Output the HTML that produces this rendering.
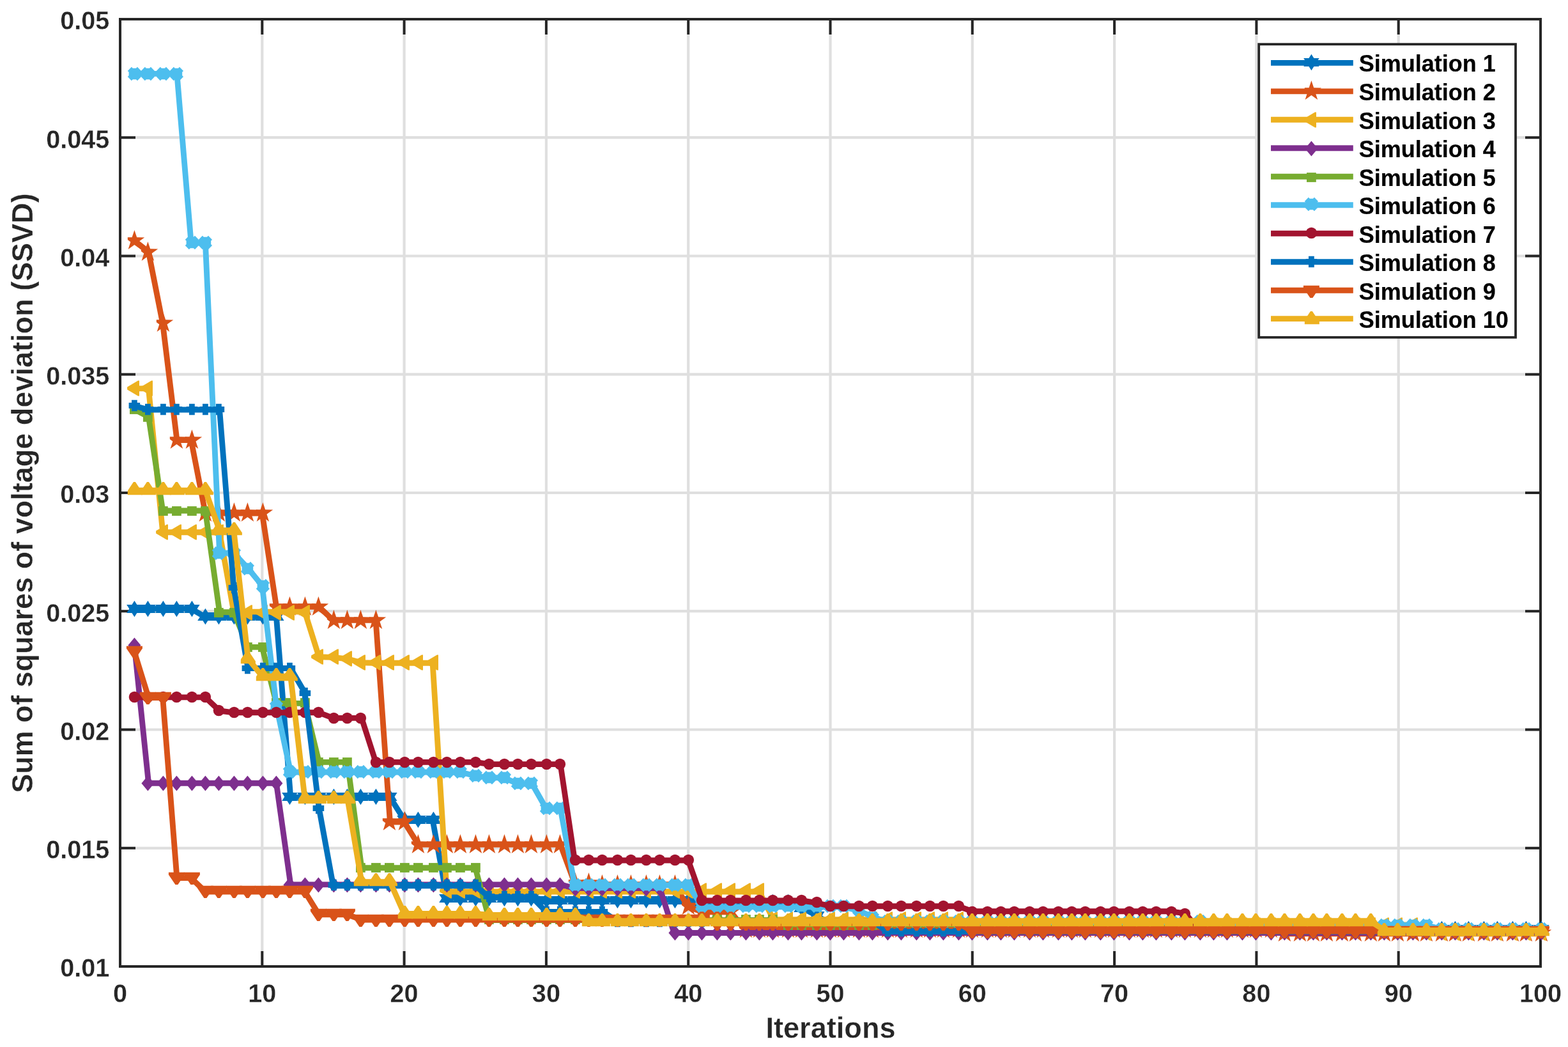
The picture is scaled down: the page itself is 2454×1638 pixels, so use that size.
<!DOCTYPE html>
<html lang="en"><head><meta charset="utf-8">
<title>Sum of squares of voltage deviation (SSVD) vs Iterations</title>
<style>
html,body{margin:0;padding:0;background:#fff;}
body{width:2454px;height:1638px;overflow:hidden;}
svg{display:block;}
text{font-family:"Liberation Sans",sans-serif;font-weight:bold;}
.tick,.lab{stroke:#fff;stroke-width:0.3px;paint-order:fill stroke;stroke-linejoin:miter;}
.tick{font-size:40.6px;fill:#262626;}
.lab{font-size:45.6px;fill:#262626;}
.leg{font-size:37.4px;fill:#000;stroke:#000;stroke-width:0.2px;}
</style></head><body>
<svg width="2454" height="1638" viewBox="0 0 2454 1638" role="img" aria-label="Convergence of SSVD over iterations for ten simulations">
<defs>
<g id="m-hex"><polygon points="0,-12.8 12.2,6.4 -12.2,6.4"/><polygon points="0,12.8 12.2,-6.4 -12.2,-6.4"/></g>
<clipPath id="cl"><rect x="-10.6" y="-30" width="60" height="60"/></clipPath>
<g id="m-star" clip-path="url(#cl)"><polygon points="0,-16.6 3.8,-5.2 15.8,-5.1 6.1,2 9.8,13.4 0,6.4 -9.8,13.4 -6.1,2 -15.8,-5.1 -3.8,-5.2"/></g>
<polygon id="m-left" points="7.6,-12 7.6,12 5.6,12 -11.3,2 -11.3,-2 5.6,-12"/>
<polygon id="m-diamond" points="0,-12 10,0 0,12 -10,0"/>
<rect id="m-square" x="-7.4" y="-7.4" width="14.8" height="14.8"/>
<path id="m-hex6" d="M-7.6,-7.6L7.6,7.6M-7.6,7.6L7.6,-7.6M0,-8.8V8.8M-8.8,0H8.8" fill="none" stroke-width="8.6"/>
<circle id="m-circle" r="8.7"/>
<path id="m-plus" d="M0,-8.8V8.8M-8.8,0H8.8" fill="none" stroke-width="8.8"/>
<polygon id="m-down" points="-12.5,-7.8 12.5,-7.8 12.5,-4 2,11.6 -2,11.6 -12.5,-4"/>
<g id="m-up" clip-path="url(#cl)"><polygon points="-12.5,7.8 12.5,7.8 12.5,4 1.5,-12.4 -1.5,-12.4 -12.5,4"/></g>
<clipPath id="clip"><rect x="158" y="0" width="2283" height="1542"/></clipPath>
</defs>
<rect width="2454" height="1638" fill="#fff"/>
<g stroke="#dfdfdf" stroke-width="4.2" fill="none">
<line x1="410.3" y1="30" x2="410.3" y2="1512"/>
<line x1="632.6" y1="30" x2="632.6" y2="1512"/>
<line x1="854.9" y1="30" x2="854.9" y2="1512"/>
<line x1="1077.2" y1="30" x2="1077.2" y2="1512"/>
<line x1="1299.5" y1="30" x2="1299.5" y2="1512"/>
<line x1="1521.8" y1="30" x2="1521.8" y2="1512"/>
<line x1="1744.1" y1="30" x2="1744.1" y2="1512"/>
<line x1="1966.4" y1="30" x2="1966.4" y2="1512"/>
<line x1="2188.7" y1="30" x2="2188.7" y2="1512"/>
<line x1="188" y1="1326.8" x2="2411" y2="1326.8"/>
<line x1="188" y1="1141.5" x2="2411" y2="1141.5"/>
<line x1="188" y1="956.2" x2="2411" y2="956.2"/>
<line x1="188" y1="771" x2="2411" y2="771"/>
<line x1="188" y1="585.7" x2="2411" y2="585.7"/>
<line x1="188" y1="400.5" x2="2411" y2="400.5"/>
<line x1="188" y1="215.2" x2="2411" y2="215.2"/>
</g>
<g stroke="#262626" stroke-width="4" fill="none">
<rect x="188" y="30" width="2223" height="1482"/>
<line x1="410.3" y1="1512" x2="410.3" y2="1488"/>
<line x1="410.3" y1="30" x2="410.3" y2="54"/>
<line x1="632.6" y1="1512" x2="632.6" y2="1488"/>
<line x1="632.6" y1="30" x2="632.6" y2="54"/>
<line x1="854.9" y1="1512" x2="854.9" y2="1488"/>
<line x1="854.9" y1="30" x2="854.9" y2="54"/>
<line x1="1077.2" y1="1512" x2="1077.2" y2="1488"/>
<line x1="1077.2" y1="30" x2="1077.2" y2="54"/>
<line x1="1299.5" y1="1512" x2="1299.5" y2="1488"/>
<line x1="1299.5" y1="30" x2="1299.5" y2="54"/>
<line x1="1521.8" y1="1512" x2="1521.8" y2="1488"/>
<line x1="1521.8" y1="30" x2="1521.8" y2="54"/>
<line x1="1744.1" y1="1512" x2="1744.1" y2="1488"/>
<line x1="1744.1" y1="30" x2="1744.1" y2="54"/>
<line x1="1966.4" y1="1512" x2="1966.4" y2="1488"/>
<line x1="1966.4" y1="30" x2="1966.4" y2="54"/>
<line x1="2188.7" y1="1512" x2="2188.7" y2="1488"/>
<line x1="2188.7" y1="30" x2="2188.7" y2="54"/>
<line x1="188" y1="1326.8" x2="212" y2="1326.8"/>
<line x1="2411" y1="1326.8" x2="2387" y2="1326.8"/>
<line x1="188" y1="1141.5" x2="212" y2="1141.5"/>
<line x1="2411" y1="1141.5" x2="2387" y2="1141.5"/>
<line x1="188" y1="956.2" x2="212" y2="956.2"/>
<line x1="2411" y1="956.2" x2="2387" y2="956.2"/>
<line x1="188" y1="771" x2="212" y2="771"/>
<line x1="2411" y1="771" x2="2387" y2="771"/>
<line x1="188" y1="585.7" x2="212" y2="585.7"/>
<line x1="2411" y1="585.7" x2="2387" y2="585.7"/>
<line x1="188" y1="400.5" x2="212" y2="400.5"/>
<line x1="2411" y1="400.5" x2="2387" y2="400.5"/>
<line x1="188" y1="215.2" x2="212" y2="215.2"/>
<line x1="2411" y1="215.2" x2="2387" y2="215.2"/>
</g>
<g class="tick">
<text transform="translate(188 1568) scale(0.976 1)" text-anchor="middle">0</text>
<text transform="translate(410.3 1568) scale(0.976 1)" text-anchor="middle">10</text>
<text transform="translate(632.6 1568) scale(0.976 1)" text-anchor="middle">20</text>
<text transform="translate(854.9 1568) scale(0.976 1)" text-anchor="middle">30</text>
<text transform="translate(1077.2 1568) scale(0.976 1)" text-anchor="middle">40</text>
<text transform="translate(1299.5 1568) scale(0.976 1)" text-anchor="middle">50</text>
<text transform="translate(1521.8 1568) scale(0.976 1)" text-anchor="middle">60</text>
<text transform="translate(1744.1 1568) scale(0.976 1)" text-anchor="middle">70</text>
<text transform="translate(1966.4 1568) scale(0.976 1)" text-anchor="middle">80</text>
<text transform="translate(2188.7 1568) scale(0.976 1)" text-anchor="middle">90</text>
<text transform="translate(2411 1568) scale(0.976 1)" text-anchor="middle">100</text>
<text transform="translate(171.3 1528.4) scale(0.976 1)" text-anchor="end">0.01</text>
<text transform="translate(171.3 1343.2) scale(0.976 1)" text-anchor="end">0.015</text>
<text transform="translate(171.3 1157.9) scale(0.976 1)" text-anchor="end">0.02</text>
<text transform="translate(171.3 972.6) scale(0.976 1)" text-anchor="end">0.025</text>
<text transform="translate(171.3 787.4) scale(0.976 1)" text-anchor="end">0.03</text>
<text transform="translate(171.3 602.1) scale(0.976 1)" text-anchor="end">0.035</text>
<text transform="translate(171.3 416.9) scale(0.976 1)" text-anchor="end">0.04</text>
<text transform="translate(171.3 231.7) scale(0.976 1)" text-anchor="end">0.045</text>
<text transform="translate(171.3 46.4) scale(0.976 1)" text-anchor="end">0.05</text>
</g>
<text class="lab" transform="translate(1300 1624) scale(0.99 1)" text-anchor="middle">Iterations</text>
<text class="lab" transform="translate(51.3 771.5) rotate(-90) scale(0.988 1)" text-anchor="middle">Sum of squares of voltage deviation (SSVD)</text>
<g clip-path="url(#clip)">
<g fill="#0072bd" stroke="#0072bd" stroke-width="0">
<polyline fill="none" stroke-width="8.9" stroke-linejoin="round" points="210.2,952.3 232.5,952.3 254.7,952.3 276.9,952.3 299.1,952.3 321.4,965.4 343.6,965.4 365.8,965.4 388.1,965.4 410.3,965.4 432.5,965.4 454.8,1247.3 477,1247.3 499.2,1247.3 521.5,1247.3 543.7,1247.3 565.9,1247.3 588.1,1247.3 610.4,1247.3 632.6,1282.5 654.8,1282.5 677.1,1282.5 699.3,1404.3 721.5,1404.3 743.8,1404.3 766,1404.3 788.2,1404.3 810.4,1404.3 832.7,1404.3 854.9,1408 877.1,1408 899.4,1408 921.6,1408 943.8,1408 966,1408 988.3,1408 1010.5,1408 1032.7,1408 1055,1408 1077.2,1408 1099.4,1412 1121.7,1412 1143.9,1412 1166.1,1412 1188.3,1412 1210.6,1412 1232.8,1412 1255,1420 1277.3,1432 1299.5,1445 1321.7,1445 1344,1445 1366.2,1445 1388.4,1453.6 1410.7,1453.6 1432.9,1453.6 1455.1,1453.6 1477.3,1453.6 1499.6,1453.6 1521.8,1453.6 1544,1453.6 1566.3,1453.6 1588.5,1453.6 1610.7,1453.6 1633,1453.6 1655.2,1453.6 1677.4,1453.6 1699.6,1453.6 1721.9,1453.6 1744.1,1453.6 1766.3,1453.6 1788.6,1453.6 1810.8,1453.6 1833,1453.6 1855.2,1453.6 1877.5,1453.6 1899.7,1453.6 1921.9,1453.6 1944.2,1453.6 1966.4,1453.6 1988.6,1453.6 2010.9,1453.6 2033.1,1453.6 2055.3,1453.6 2077.6,1453.6 2099.8,1453.6 2122,1453.6 2144.2,1453.6 2166.5,1453.6 2188.7,1453.6 2210.9,1453.6 2233.2,1453.6 2255.4,1453.6 2277.6,1453.6 2299.8,1453.6 2322.1,1453.6 2344.3,1453.6 2366.5,1453.6 2388.8,1453.6 2411,1453.6"/>
<use href="#m-hex" x="210.4" y="952.5"/>
<use href="#m-hex" x="231.4" y="952.5"/>
<use href="#m-hex" x="255.4" y="952.5"/>
<use href="#m-hex" x="276.4" y="952.5"/>
<use href="#m-hex" x="300.4" y="952.5"/>
<use href="#m-hex" x="321.4" y="964.5"/>
<use href="#m-hex" x="342.4" y="964.5"/>
<use href="#m-hex" x="366.4" y="964.5"/>
<use href="#m-hex" x="387.4" y="964.5"/>
<use href="#m-hex" x="411.4" y="964.5"/>
<use href="#m-hex" x="432.4" y="964.5"/>
<use href="#m-hex" x="453.4" y="1246.5"/>
<use href="#m-hex" x="477.4" y="1246.5"/>
<use href="#m-hex" x="498.4" y="1246.5"/>
<use href="#m-hex" x="522.4" y="1246.5"/>
<use href="#m-hex" x="543.4" y="1246.5"/>
<use href="#m-hex" x="564.4" y="1246.5"/>
<use href="#m-hex" x="588.4" y="1246.5"/>
<use href="#m-hex" x="609.4" y="1246.5"/>
<use href="#m-hex" x="633.4" y="1282.5"/>
<use href="#m-hex" x="654.4" y="1282.5"/>
<use href="#m-hex" x="678.4" y="1282.5"/>
<use href="#m-hex" x="699.4" y="1405.5"/>
<use href="#m-hex" x="720.4" y="1405.5"/>
<use href="#m-hex" x="744.4" y="1405.5"/>
<use href="#m-hex" x="765.4" y="1405.5"/>
<use href="#m-hex" x="789.4" y="1405.5"/>
<use href="#m-hex" x="810.4" y="1405.5"/>
<use href="#m-hex" x="831.4" y="1405.5"/>
<use href="#m-hex" x="855.4" y="1408.5"/>
<use href="#m-hex" x="876.4" y="1408.5"/>
<use href="#m-hex" x="900.4" y="1408.5"/>
<use href="#m-hex" x="921.4" y="1408.5"/>
<use href="#m-hex" x="942.4" y="1408.5"/>
<use href="#m-hex" x="966.4" y="1408.5"/>
<use href="#m-hex" x="987.4" y="1408.5"/>
<use href="#m-hex" x="1011.4" y="1408.5"/>
<use href="#m-hex" x="1032.4" y="1408.5"/>
<use href="#m-hex" x="1056.4" y="1408.5"/>
<use href="#m-hex" x="1077.4" y="1408.5"/>
<use href="#m-hex" x="1098.4" y="1411.5"/>
<use href="#m-hex" x="1122.4" y="1411.5"/>
<use href="#m-hex" x="1143.4" y="1411.5"/>
<use href="#m-hex" x="1167.4" y="1411.5"/>
<use href="#m-hex" x="1188.4" y="1411.5"/>
<use href="#m-hex" x="1209.4" y="1411.5"/>
<use href="#m-hex" x="1233.4" y="1411.5"/>
<use href="#m-hex" x="1254.4" y="1420.5"/>
<use href="#m-hex" x="1278.4" y="1432.5"/>
<use href="#m-hex" x="1299.4" y="1444.5"/>
<use href="#m-hex" x="1320.4" y="1444.5"/>
<use href="#m-hex" x="1344.4" y="1444.5"/>
<use href="#m-hex" x="1365.4" y="1444.5"/>
<use href="#m-hex" x="1389.4" y="1453.5"/>
<use href="#m-hex" x="1410.4" y="1453.5"/>
<use href="#m-hex" x="1434.4" y="1453.5"/>
<use href="#m-hex" x="1455.4" y="1453.5"/>
<use href="#m-hex" x="1476.4" y="1453.5"/>
<use href="#m-hex" x="1500.4" y="1453.5"/>
<use href="#m-hex" x="1521.4" y="1453.5"/>
<use href="#m-hex" x="1545.4" y="1453.5"/>
<use href="#m-hex" x="1566.4" y="1453.5"/>
<use href="#m-hex" x="1587.4" y="1453.5"/>
<use href="#m-hex" x="1611.4" y="1453.5"/>
<use href="#m-hex" x="1632.4" y="1453.5"/>
<use href="#m-hex" x="1656.4" y="1453.5"/>
<use href="#m-hex" x="1677.4" y="1453.5"/>
<use href="#m-hex" x="1698.4" y="1453.5"/>
<use href="#m-hex" x="1722.4" y="1453.5"/>
<use href="#m-hex" x="1743.4" y="1453.5"/>
<use href="#m-hex" x="1767.4" y="1453.5"/>
<use href="#m-hex" x="1788.4" y="1453.5"/>
<use href="#m-hex" x="1809.4" y="1453.5"/>
<use href="#m-hex" x="1833.4" y="1453.5"/>
<use href="#m-hex" x="1854.4" y="1453.5"/>
<use href="#m-hex" x="1878.4" y="1453.5"/>
<use href="#m-hex" x="1899.4" y="1453.5"/>
<use href="#m-hex" x="1920.4" y="1453.5"/>
<use href="#m-hex" x="1944.4" y="1453.5"/>
<use href="#m-hex" x="1965.4" y="1453.5"/>
<use href="#m-hex" x="1989.4" y="1453.5"/>
<use href="#m-hex" x="2010.4" y="1453.5"/>
<use href="#m-hex" x="2034.4" y="1453.5"/>
<use href="#m-hex" x="2055.4" y="1453.5"/>
<use href="#m-hex" x="2076.4" y="1453.5"/>
<use href="#m-hex" x="2100.4" y="1453.5"/>
<use href="#m-hex" x="2121.4" y="1453.5"/>
<use href="#m-hex" x="2145.4" y="1453.5"/>
<use href="#m-hex" x="2166.4" y="1453.5"/>
<use href="#m-hex" x="2187.4" y="1453.5"/>
<use href="#m-hex" x="2211.4" y="1453.5"/>
<use href="#m-hex" x="2232.4" y="1453.5"/>
<use href="#m-hex" x="2256.4" y="1453.5"/>
<use href="#m-hex" x="2277.4" y="1453.5"/>
<use href="#m-hex" x="2298.4" y="1453.5"/>
<use href="#m-hex" x="2322.4" y="1453.5"/>
<use href="#m-hex" x="2343.4" y="1453.5"/>
<use href="#m-hex" x="2367.4" y="1453.5"/>
<use href="#m-hex" x="2388.4" y="1453.5"/>
<use href="#m-hex" x="2412.4" y="1453.5"/>
</g>
<g fill="#d95319" stroke="#d95319" stroke-width="0">
<polyline fill="none" stroke-width="8.9" stroke-linejoin="round" points="210.2,376.4 232.5,394.1 254.7,506.5 276.9,688.5 299.1,688.5 321.4,803 343.6,803 365.8,803 388.1,803 410.3,803 432.5,949.3 454.8,949.3 477,949.3 499.2,949.3 521.5,970.4 543.7,970.4 565.9,970.4 588.1,970.4 610.4,1286 632.6,1286 654.8,1321.4 677.1,1321.4 699.3,1321.4 721.5,1321.4 743.8,1321.4 766,1321.4 788.2,1321.4 810.4,1321.4 832.7,1321.4 854.9,1321.4 877.1,1321.4 899.4,1381.7 921.6,1381.7 943.8,1384.2 966,1384.2 988.3,1384.2 1010.5,1384.2 1032.7,1384.2 1055,1384.2 1077.2,1418.6 1099.4,1426.9 1121.7,1426.9 1143.9,1426.9 1166.1,1454.7 1188.3,1454.7 1210.6,1454.7 1232.8,1454.7 1255,1454.7 1277.3,1454.7 1299.5,1454.7 1321.7,1454.7 1344,1454.7 1366.2,1454.7 1388.4,1454.7 1410.7,1454.7 1432.9,1454.7 1455.1,1454.7 1477.3,1454.7 1499.6,1454.7 1521.8,1454.7 1544,1454.7 1566.3,1454.7 1588.5,1454.7 1610.7,1454.7 1633,1454.7 1655.2,1454.7 1677.4,1454.7 1699.6,1454.7 1721.9,1454.7 1744.1,1454.7 1766.3,1454.7 1788.6,1454.7 1810.8,1454.7 1833,1454.7 1855.2,1454.7 1877.5,1454.7 1899.7,1454.7 1921.9,1454.7 1944.2,1454.7 1966.4,1454.7 1988.6,1454.7 2010.9,1460.7 2033.1,1460.7 2055.3,1460.7 2077.6,1460.7 2099.8,1460.7 2122,1460.7 2144.2,1460.7 2166.5,1460.7 2188.7,1460.7 2210.9,1460.7 2233.2,1460.7 2255.4,1460.7 2277.6,1460.7 2299.8,1460.7 2322.1,1460.7 2344.3,1460.7 2366.5,1460.7 2388.8,1460.7 2411,1460.7"/>
<use href="#m-star" x="210.4" y="376.5"/>
<use href="#m-star" x="231.4" y="394.5"/>
<use href="#m-star" x="255.4" y="505.5"/>
<use href="#m-star" x="276.4" y="688.5"/>
<use href="#m-star" x="300.4" y="688.5"/>
<use href="#m-star" x="321.4" y="802.5"/>
<use href="#m-star" x="342.4" y="802.5"/>
<use href="#m-star" x="366.4" y="802.5"/>
<use href="#m-star" x="387.4" y="802.5"/>
<use href="#m-star" x="411.4" y="802.5"/>
<use href="#m-star" x="432.4" y="949.5"/>
<use href="#m-star" x="453.4" y="949.5"/>
<use href="#m-star" x="477.4" y="949.5"/>
<use href="#m-star" x="498.4" y="949.5"/>
<use href="#m-star" x="522.4" y="970.5"/>
<use href="#m-star" x="543.4" y="970.5"/>
<use href="#m-star" x="564.4" y="970.5"/>
<use href="#m-star" x="588.4" y="970.5"/>
<use href="#m-star" x="609.4" y="1285.5"/>
<use href="#m-star" x="633.4" y="1285.5"/>
<use href="#m-star" x="654.4" y="1321.5"/>
<use href="#m-star" x="678.4" y="1321.5"/>
<use href="#m-star" x="699.4" y="1321.5"/>
<use href="#m-star" x="720.4" y="1321.5"/>
<use href="#m-star" x="744.4" y="1321.5"/>
<use href="#m-star" x="765.4" y="1321.5"/>
<use href="#m-star" x="789.4" y="1321.5"/>
<use href="#m-star" x="810.4" y="1321.5"/>
<use href="#m-star" x="831.4" y="1321.5"/>
<use href="#m-star" x="855.4" y="1321.5"/>
<use href="#m-star" x="876.4" y="1321.5"/>
<use href="#m-star" x="900.4" y="1381.5"/>
<use href="#m-star" x="921.4" y="1381.5"/>
<use href="#m-star" x="942.4" y="1384.5"/>
<use href="#m-star" x="966.4" y="1384.5"/>
<use href="#m-star" x="987.4" y="1384.5"/>
<use href="#m-star" x="1011.4" y="1384.5"/>
<use href="#m-star" x="1032.4" y="1384.5"/>
<use href="#m-star" x="1056.4" y="1384.5"/>
<use href="#m-star" x="1077.4" y="1417.5"/>
<use href="#m-star" x="1098.4" y="1426.5"/>
<use href="#m-star" x="1122.4" y="1426.5"/>
<use href="#m-star" x="1143.4" y="1426.5"/>
<use href="#m-star" x="1167.4" y="1453.5"/>
<use href="#m-star" x="1188.4" y="1453.5"/>
<use href="#m-star" x="1209.4" y="1453.5"/>
<use href="#m-star" x="1233.4" y="1453.5"/>
<use href="#m-star" x="1254.4" y="1453.5"/>
<use href="#m-star" x="1278.4" y="1453.5"/>
<use href="#m-star" x="1299.4" y="1453.5"/>
<use href="#m-star" x="1320.4" y="1453.5"/>
<use href="#m-star" x="1344.4" y="1453.5"/>
<use href="#m-star" x="1365.4" y="1453.5"/>
<use href="#m-star" x="1389.4" y="1453.5"/>
<use href="#m-star" x="1410.4" y="1453.5"/>
<use href="#m-star" x="1434.4" y="1453.5"/>
<use href="#m-star" x="1455.4" y="1453.5"/>
<use href="#m-star" x="1476.4" y="1453.5"/>
<use href="#m-star" x="1500.4" y="1453.5"/>
<use href="#m-star" x="1521.4" y="1453.5"/>
<use href="#m-star" x="1545.4" y="1453.5"/>
<use href="#m-star" x="1566.4" y="1453.5"/>
<use href="#m-star" x="1587.4" y="1453.5"/>
<use href="#m-star" x="1611.4" y="1453.5"/>
<use href="#m-star" x="1632.4" y="1453.5"/>
<use href="#m-star" x="1656.4" y="1453.5"/>
<use href="#m-star" x="1677.4" y="1453.5"/>
<use href="#m-star" x="1698.4" y="1453.5"/>
<use href="#m-star" x="1722.4" y="1453.5"/>
<use href="#m-star" x="1743.4" y="1453.5"/>
<use href="#m-star" x="1767.4" y="1453.5"/>
<use href="#m-star" x="1788.4" y="1453.5"/>
<use href="#m-star" x="1809.4" y="1453.5"/>
<use href="#m-star" x="1833.4" y="1453.5"/>
<use href="#m-star" x="1854.4" y="1453.5"/>
<use href="#m-star" x="1878.4" y="1453.5"/>
<use href="#m-star" x="1899.4" y="1453.5"/>
<use href="#m-star" x="1920.4" y="1453.5"/>
<use href="#m-star" x="1944.4" y="1453.5"/>
<use href="#m-star" x="1965.4" y="1453.5"/>
<use href="#m-star" x="1989.4" y="1453.5"/>
<use href="#m-star" x="2010.4" y="1459.5"/>
<use href="#m-star" x="2034.4" y="1459.5"/>
<use href="#m-star" x="2055.4" y="1459.5"/>
<use href="#m-star" x="2076.4" y="1459.5"/>
<use href="#m-star" x="2100.4" y="1459.5"/>
<use href="#m-star" x="2121.4" y="1459.5"/>
<use href="#m-star" x="2145.4" y="1459.5"/>
<use href="#m-star" x="2166.4" y="1459.5"/>
<use href="#m-star" x="2187.4" y="1459.5"/>
<use href="#m-star" x="2211.4" y="1459.5"/>
<use href="#m-star" x="2232.4" y="1459.5"/>
<use href="#m-star" x="2256.4" y="1459.5"/>
<use href="#m-star" x="2277.4" y="1459.5"/>
<use href="#m-star" x="2298.4" y="1459.5"/>
<use href="#m-star" x="2322.4" y="1459.5"/>
<use href="#m-star" x="2343.4" y="1459.5"/>
<use href="#m-star" x="2367.4" y="1459.5"/>
<use href="#m-star" x="2388.4" y="1459.5"/>
<use href="#m-star" x="2412.4" y="1459.5"/>
</g>
<g fill="#edb120" stroke="#edb120" stroke-width="0">
<polyline fill="none" stroke-width="8.9" stroke-linejoin="round" points="210.2,607.9 232.5,607.9 254.7,832.8 276.9,832.8 299.1,832.8 321.4,832.8 343.6,832.8 365.8,957.1 388.1,957.1 410.3,957.1 432.5,957.1 454.8,957.1 477,957.1 499.2,1027.7 521.5,1028.4 543.7,1030.9 565.9,1036.7 588.1,1037.3 610.4,1037.3 632.6,1037.3 654.8,1037.3 677.1,1037.3 699.3,1395 721.5,1395 743.8,1395 766,1395 788.2,1395 810.4,1395 832.7,1395 854.9,1395 877.1,1395 899.4,1395 921.6,1395 943.8,1395 966,1395 988.3,1395 1010.5,1395 1032.7,1395 1055,1395 1077.2,1395 1099.4,1395 1121.7,1395 1143.9,1395 1166.1,1395 1188.3,1395 1210.6,1438.7 1232.8,1438.7 1255,1438.7 1277.3,1438.7 1299.5,1438.7 1321.7,1438.7 1344,1438.7 1366.2,1438.7 1388.4,1438.7 1410.7,1438.7 1432.9,1438.7 1455.1,1438.7 1477.3,1438.7 1499.6,1438.7 1521.8,1447 1544,1447 1566.3,1447 1588.5,1447 1610.7,1447 1633,1447 1655.2,1447 1677.4,1447 1699.6,1447 1721.9,1447 1744.1,1447 1766.3,1447 1788.6,1447 1810.8,1447 1833,1447 1855.2,1447 1877.5,1447 1899.7,1447 1921.9,1447 1944.2,1447 1966.4,1447 1988.6,1447 2010.9,1447 2033.1,1447 2055.3,1447 2077.6,1447 2099.8,1447 2122,1447 2144.2,1447 2166.5,1447 2188.7,1447 2210.9,1447 2233.2,1460.6 2255.4,1460.6 2277.6,1460.6 2299.8,1460.6 2322.1,1460.6 2344.3,1460.6 2366.5,1460.6 2388.8,1460.6 2411,1460.6"/>
<use href="#m-left" x="210.4" y="607.5"/>
<use href="#m-left" x="231.4" y="607.5"/>
<use href="#m-left" x="255.4" y="832.5"/>
<use href="#m-left" x="276.4" y="832.5"/>
<use href="#m-left" x="300.4" y="832.5"/>
<use href="#m-left" x="321.4" y="832.5"/>
<use href="#m-left" x="342.4" y="832.5"/>
<use href="#m-left" x="366.4" y="958.5"/>
<use href="#m-left" x="387.4" y="958.5"/>
<use href="#m-left" x="411.4" y="958.5"/>
<use href="#m-left" x="432.4" y="958.5"/>
<use href="#m-left" x="453.4" y="958.5"/>
<use href="#m-left" x="477.4" y="958.5"/>
<use href="#m-left" x="498.4" y="1027.5"/>
<use href="#m-left" x="522.4" y="1027.5"/>
<use href="#m-left" x="543.4" y="1030.5"/>
<use href="#m-left" x="564.4" y="1036.5"/>
<use href="#m-left" x="588.4" y="1036.5"/>
<use href="#m-left" x="609.4" y="1036.5"/>
<use href="#m-left" x="633.4" y="1036.5"/>
<use href="#m-left" x="654.4" y="1036.5"/>
<use href="#m-left" x="678.4" y="1036.5"/>
<use href="#m-left" x="699.4" y="1393.5"/>
<use href="#m-left" x="720.4" y="1393.5"/>
<use href="#m-left" x="744.4" y="1393.5"/>
<use href="#m-left" x="765.4" y="1393.5"/>
<use href="#m-left" x="789.4" y="1393.5"/>
<use href="#m-left" x="810.4" y="1393.5"/>
<use href="#m-left" x="831.4" y="1393.5"/>
<use href="#m-left" x="855.4" y="1393.5"/>
<use href="#m-left" x="876.4" y="1393.5"/>
<use href="#m-left" x="900.4" y="1393.5"/>
<use href="#m-left" x="921.4" y="1393.5"/>
<use href="#m-left" x="942.4" y="1393.5"/>
<use href="#m-left" x="966.4" y="1393.5"/>
<use href="#m-left" x="987.4" y="1393.5"/>
<use href="#m-left" x="1011.4" y="1393.5"/>
<use href="#m-left" x="1032.4" y="1393.5"/>
<use href="#m-left" x="1056.4" y="1393.5"/>
<use href="#m-left" x="1077.4" y="1393.5"/>
<use href="#m-left" x="1098.4" y="1393.5"/>
<use href="#m-left" x="1122.4" y="1393.5"/>
<use href="#m-left" x="1143.4" y="1393.5"/>
<use href="#m-left" x="1167.4" y="1393.5"/>
<use href="#m-left" x="1188.4" y="1393.5"/>
<use href="#m-left" x="1209.4" y="1438.5"/>
<use href="#m-left" x="1233.4" y="1438.5"/>
<use href="#m-left" x="1254.4" y="1438.5"/>
<use href="#m-left" x="1278.4" y="1438.5"/>
<use href="#m-left" x="1299.4" y="1438.5"/>
<use href="#m-left" x="1320.4" y="1438.5"/>
<use href="#m-left" x="1344.4" y="1438.5"/>
<use href="#m-left" x="1365.4" y="1438.5"/>
<use href="#m-left" x="1389.4" y="1438.5"/>
<use href="#m-left" x="1410.4" y="1438.5"/>
<use href="#m-left" x="1434.4" y="1438.5"/>
<use href="#m-left" x="1455.4" y="1438.5"/>
<use href="#m-left" x="1476.4" y="1438.5"/>
<use href="#m-left" x="1500.4" y="1438.5"/>
<use href="#m-left" x="1521.4" y="1447.5"/>
<use href="#m-left" x="1545.4" y="1447.5"/>
<use href="#m-left" x="1566.4" y="1447.5"/>
<use href="#m-left" x="1587.4" y="1447.5"/>
<use href="#m-left" x="1611.4" y="1447.5"/>
<use href="#m-left" x="1632.4" y="1447.5"/>
<use href="#m-left" x="1656.4" y="1447.5"/>
<use href="#m-left" x="1677.4" y="1447.5"/>
<use href="#m-left" x="1698.4" y="1447.5"/>
<use href="#m-left" x="1722.4" y="1447.5"/>
<use href="#m-left" x="1743.4" y="1447.5"/>
<use href="#m-left" x="1767.4" y="1447.5"/>
<use href="#m-left" x="1788.4" y="1447.5"/>
<use href="#m-left" x="1809.4" y="1447.5"/>
<use href="#m-left" x="1833.4" y="1447.5"/>
<use href="#m-left" x="1854.4" y="1447.5"/>
<use href="#m-left" x="1878.4" y="1447.5"/>
<use href="#m-left" x="1899.4" y="1447.5"/>
<use href="#m-left" x="1920.4" y="1447.5"/>
<use href="#m-left" x="1944.4" y="1447.5"/>
<use href="#m-left" x="1965.4" y="1447.5"/>
<use href="#m-left" x="1989.4" y="1447.5"/>
<use href="#m-left" x="2010.4" y="1447.5"/>
<use href="#m-left" x="2034.4" y="1447.5"/>
<use href="#m-left" x="2055.4" y="1447.5"/>
<use href="#m-left" x="2076.4" y="1447.5"/>
<use href="#m-left" x="2100.4" y="1447.5"/>
<use href="#m-left" x="2121.4" y="1447.5"/>
<use href="#m-left" x="2145.4" y="1447.5"/>
<use href="#m-left" x="2166.4" y="1447.5"/>
<use href="#m-left" x="2187.4" y="1447.5"/>
<use href="#m-left" x="2211.4" y="1447.5"/>
<use href="#m-left" x="2232.4" y="1459.5"/>
<use href="#m-left" x="2256.4" y="1459.5"/>
<use href="#m-left" x="2277.4" y="1459.5"/>
<use href="#m-left" x="2298.4" y="1459.5"/>
<use href="#m-left" x="2322.4" y="1459.5"/>
<use href="#m-left" x="2343.4" y="1459.5"/>
<use href="#m-left" x="2367.4" y="1459.5"/>
<use href="#m-left" x="2388.4" y="1459.5"/>
<use href="#m-left" x="2412.4" y="1459.5"/>
</g>
<g fill="#7e2f8e" stroke="#7e2f8e" stroke-width="0">
<polyline fill="none" stroke-width="8.9" stroke-linejoin="round" points="210.2,1009 232.5,1225.3 254.7,1225.3 276.9,1225.3 299.1,1225.3 321.4,1225.3 343.6,1225.3 365.8,1225.3 388.1,1225.3 410.3,1225.3 432.5,1225.3 454.8,1383.9 477,1383.9 499.2,1383.9 521.5,1383.9 543.7,1383.9 565.9,1383.9 588.1,1383.9 610.4,1383.9 632.6,1383.9 654.8,1383.9 677.1,1383.9 699.3,1383.9 721.5,1383.9 743.8,1383.9 766,1383.9 788.2,1383.9 810.4,1383.9 832.7,1383.9 854.9,1383.9 877.1,1383.9 899.4,1389.6 921.6,1389.6 943.8,1389.6 966,1389.6 988.3,1389.6 1010.5,1389.6 1032.7,1389.6 1055,1459.5 1077.2,1459.5 1099.4,1459.5 1121.7,1459.5 1143.9,1459.5 1166.1,1459.5 1188.3,1459.5 1210.6,1459.5 1232.8,1459.5 1255,1459.5 1277.3,1459.5 1299.5,1459.5 1321.7,1459.5 1344,1459.5 1366.2,1459.5 1388.4,1459.5 1410.7,1459.5 1432.9,1459.5 1455.1,1459.5 1477.3,1459.5 1499.6,1459.5 1521.8,1459.5 1544,1459.5 1566.3,1459.5 1588.5,1459.5 1610.7,1459.5 1633,1459.5 1655.2,1459.5 1677.4,1459.5 1699.6,1459.5 1721.9,1459.5 1744.1,1459.5 1766.3,1459.5 1788.6,1459.5 1810.8,1459.5 1833,1459.5 1855.2,1459.5 1877.5,1459.5 1899.7,1459.5 1921.9,1459.5 1944.2,1459.5 1966.4,1459.5 1988.6,1459.5 2010.9,1459.5 2033.1,1459.5 2055.3,1459.5 2077.6,1459.5 2099.8,1459.5 2122,1459.5 2144.2,1459.5 2166.5,1459.5 2188.7,1459.5 2210.9,1459.5 2233.2,1459.5 2255.4,1459.5 2277.6,1459.5 2299.8,1459.5 2322.1,1459.5 2344.3,1459.5 2366.5,1459.5 2388.8,1459.5 2411,1459.5"/>
<use href="#m-diamond" x="210.4" y="1009.5"/>
<use href="#m-diamond" x="231.4" y="1225.5"/>
<use href="#m-diamond" x="255.4" y="1225.5"/>
<use href="#m-diamond" x="276.4" y="1225.5"/>
<use href="#m-diamond" x="300.4" y="1225.5"/>
<use href="#m-diamond" x="321.4" y="1225.5"/>
<use href="#m-diamond" x="342.4" y="1225.5"/>
<use href="#m-diamond" x="366.4" y="1225.5"/>
<use href="#m-diamond" x="387.4" y="1225.5"/>
<use href="#m-diamond" x="411.4" y="1225.5"/>
<use href="#m-diamond" x="432.4" y="1225.5"/>
<use href="#m-diamond" x="453.4" y="1384.5"/>
<use href="#m-diamond" x="477.4" y="1384.5"/>
<use href="#m-diamond" x="498.4" y="1384.5"/>
<use href="#m-diamond" x="522.4" y="1384.5"/>
<use href="#m-diamond" x="543.4" y="1384.5"/>
<use href="#m-diamond" x="564.4" y="1384.5"/>
<use href="#m-diamond" x="588.4" y="1384.5"/>
<use href="#m-diamond" x="609.4" y="1384.5"/>
<use href="#m-diamond" x="633.4" y="1384.5"/>
<use href="#m-diamond" x="654.4" y="1384.5"/>
<use href="#m-diamond" x="678.4" y="1384.5"/>
<use href="#m-diamond" x="699.4" y="1384.5"/>
<use href="#m-diamond" x="720.4" y="1384.5"/>
<use href="#m-diamond" x="744.4" y="1384.5"/>
<use href="#m-diamond" x="765.4" y="1384.5"/>
<use href="#m-diamond" x="789.4" y="1384.5"/>
<use href="#m-diamond" x="810.4" y="1384.5"/>
<use href="#m-diamond" x="831.4" y="1384.5"/>
<use href="#m-diamond" x="855.4" y="1384.5"/>
<use href="#m-diamond" x="876.4" y="1384.5"/>
<use href="#m-diamond" x="900.4" y="1390.5"/>
<use href="#m-diamond" x="921.4" y="1390.5"/>
<use href="#m-diamond" x="942.4" y="1390.5"/>
<use href="#m-diamond" x="966.4" y="1390.5"/>
<use href="#m-diamond" x="987.4" y="1390.5"/>
<use href="#m-diamond" x="1011.4" y="1390.5"/>
<use href="#m-diamond" x="1032.4" y="1390.5"/>
<use href="#m-diamond" x="1056.4" y="1459.5"/>
<use href="#m-diamond" x="1077.4" y="1459.5"/>
<use href="#m-diamond" x="1098.4" y="1459.5"/>
<use href="#m-diamond" x="1122.4" y="1459.5"/>
<use href="#m-diamond" x="1143.4" y="1459.5"/>
<use href="#m-diamond" x="1167.4" y="1459.5"/>
<use href="#m-diamond" x="1188.4" y="1459.5"/>
<use href="#m-diamond" x="1209.4" y="1459.5"/>
<use href="#m-diamond" x="1233.4" y="1459.5"/>
<use href="#m-diamond" x="1254.4" y="1459.5"/>
<use href="#m-diamond" x="1278.4" y="1459.5"/>
<use href="#m-diamond" x="1299.4" y="1459.5"/>
<use href="#m-diamond" x="1320.4" y="1459.5"/>
<use href="#m-diamond" x="1344.4" y="1459.5"/>
<use href="#m-diamond" x="1365.4" y="1459.5"/>
<use href="#m-diamond" x="1389.4" y="1459.5"/>
<use href="#m-diamond" x="1410.4" y="1459.5"/>
<use href="#m-diamond" x="1434.4" y="1459.5"/>
<use href="#m-diamond" x="1455.4" y="1459.5"/>
<use href="#m-diamond" x="1476.4" y="1459.5"/>
<use href="#m-diamond" x="1500.4" y="1459.5"/>
<use href="#m-diamond" x="1521.4" y="1459.5"/>
<use href="#m-diamond" x="1545.4" y="1459.5"/>
<use href="#m-diamond" x="1566.4" y="1459.5"/>
<use href="#m-diamond" x="1587.4" y="1459.5"/>
<use href="#m-diamond" x="1611.4" y="1459.5"/>
<use href="#m-diamond" x="1632.4" y="1459.5"/>
<use href="#m-diamond" x="1656.4" y="1459.5"/>
<use href="#m-diamond" x="1677.4" y="1459.5"/>
<use href="#m-diamond" x="1698.4" y="1459.5"/>
<use href="#m-diamond" x="1722.4" y="1459.5"/>
<use href="#m-diamond" x="1743.4" y="1459.5"/>
<use href="#m-diamond" x="1767.4" y="1459.5"/>
<use href="#m-diamond" x="1788.4" y="1459.5"/>
<use href="#m-diamond" x="1809.4" y="1459.5"/>
<use href="#m-diamond" x="1833.4" y="1459.5"/>
<use href="#m-diamond" x="1854.4" y="1459.5"/>
<use href="#m-diamond" x="1878.4" y="1459.5"/>
<use href="#m-diamond" x="1899.4" y="1459.5"/>
<use href="#m-diamond" x="1920.4" y="1459.5"/>
<use href="#m-diamond" x="1944.4" y="1459.5"/>
<use href="#m-diamond" x="1965.4" y="1459.5"/>
<use href="#m-diamond" x="1989.4" y="1459.5"/>
<use href="#m-diamond" x="2010.4" y="1459.5"/>
<use href="#m-diamond" x="2034.4" y="1459.5"/>
<use href="#m-diamond" x="2055.4" y="1459.5"/>
<use href="#m-diamond" x="2076.4" y="1459.5"/>
<use href="#m-diamond" x="2100.4" y="1459.5"/>
<use href="#m-diamond" x="2121.4" y="1459.5"/>
<use href="#m-diamond" x="2145.4" y="1459.5"/>
<use href="#m-diamond" x="2166.4" y="1459.5"/>
<use href="#m-diamond" x="2187.4" y="1459.5"/>
<use href="#m-diamond" x="2211.4" y="1459.5"/>
<use href="#m-diamond" x="2232.4" y="1459.5"/>
<use href="#m-diamond" x="2256.4" y="1459.5"/>
<use href="#m-diamond" x="2277.4" y="1459.5"/>
<use href="#m-diamond" x="2298.4" y="1459.5"/>
<use href="#m-diamond" x="2322.4" y="1459.5"/>
<use href="#m-diamond" x="2343.4" y="1459.5"/>
<use href="#m-diamond" x="2367.4" y="1459.5"/>
<use href="#m-diamond" x="2388.4" y="1459.5"/>
<use href="#m-diamond" x="2412.4" y="1459.5"/>
</g>
<g fill="#77ac30" stroke="#77ac30" stroke-width="0">
<polyline fill="none" stroke-width="8.9" stroke-linejoin="round" points="210.2,640.5 232.5,652 254.7,799 276.9,799 299.1,799 321.4,799 343.6,957.8 365.8,957.8 388.1,1012.4 410.3,1012.4 432.5,1100.4 454.8,1100.4 477,1100.4 499.2,1192.4 521.5,1192.4 543.7,1192.4 565.9,1357.7 588.1,1357.7 610.4,1357.7 632.6,1357.7 654.8,1357.7 677.1,1357.7 699.3,1357.7 721.5,1357.7 743.8,1357.7 766,1439.5 788.2,1439.5 810.4,1439.5 832.7,1439.5 854.9,1439.5 877.1,1439.5 899.4,1439.5 921.6,1439.5 943.8,1439.5 966,1439.5 988.3,1439.5 1010.5,1439.5 1032.7,1439.5 1055,1439.5 1077.2,1439.5 1099.4,1439.5 1121.7,1439.5 1143.9,1439.5 1166.1,1439.5 1188.3,1439.5 1210.6,1439.5 1232.8,1446 1255,1446 1277.3,1446 1299.5,1446 1321.7,1446 1344,1446 1366.2,1446 1388.4,1446 1410.7,1446 1432.9,1446 1455.1,1446 1477.3,1446 1499.6,1446 1521.8,1446 1544,1446 1566.3,1446 1588.5,1446 1610.7,1446 1633,1446 1655.2,1446 1677.4,1446 1699.6,1446 1721.9,1446 1744.1,1446 1766.3,1446 1788.6,1446 1810.8,1446 1833,1446 1855.2,1446 1877.5,1446 1899.7,1446 1921.9,1446 1944.2,1446 1966.4,1446 1988.6,1446 2010.9,1446 2033.1,1446 2055.3,1446 2077.6,1446 2099.8,1446 2122,1446 2144.2,1446 2166.5,1455 2188.7,1455 2210.9,1455 2233.2,1455 2255.4,1455 2277.6,1455 2299.8,1455 2322.1,1455 2344.3,1455 2366.5,1455 2388.8,1455 2411,1455"/>
<use href="#m-square" x="210.4" y="640.5"/>
<use href="#m-square" x="231.4" y="652.5"/>
<use href="#m-square" x="255.4" y="799.5"/>
<use href="#m-square" x="276.4" y="799.5"/>
<use href="#m-square" x="300.4" y="799.5"/>
<use href="#m-square" x="321.4" y="799.5"/>
<use href="#m-square" x="342.4" y="958.5"/>
<use href="#m-square" x="366.4" y="958.5"/>
<use href="#m-square" x="387.4" y="1012.5"/>
<use href="#m-square" x="411.4" y="1012.5"/>
<use href="#m-square" x="432.4" y="1099.5"/>
<use href="#m-square" x="453.4" y="1099.5"/>
<use href="#m-square" x="477.4" y="1099.5"/>
<use href="#m-square" x="498.4" y="1192.5"/>
<use href="#m-square" x="522.4" y="1192.5"/>
<use href="#m-square" x="543.4" y="1192.5"/>
<use href="#m-square" x="564.4" y="1357.5"/>
<use href="#m-square" x="588.4" y="1357.5"/>
<use href="#m-square" x="609.4" y="1357.5"/>
<use href="#m-square" x="633.4" y="1357.5"/>
<use href="#m-square" x="654.4" y="1357.5"/>
<use href="#m-square" x="678.4" y="1357.5"/>
<use href="#m-square" x="699.4" y="1357.5"/>
<use href="#m-square" x="720.4" y="1357.5"/>
<use href="#m-square" x="744.4" y="1357.5"/>
<use href="#m-square" x="765.4" y="1438.5"/>
<use href="#m-square" x="789.4" y="1438.5"/>
<use href="#m-square" x="810.4" y="1438.5"/>
<use href="#m-square" x="831.4" y="1438.5"/>
<use href="#m-square" x="855.4" y="1438.5"/>
<use href="#m-square" x="876.4" y="1438.5"/>
<use href="#m-square" x="900.4" y="1438.5"/>
<use href="#m-square" x="921.4" y="1438.5"/>
<use href="#m-square" x="942.4" y="1438.5"/>
<use href="#m-square" x="966.4" y="1438.5"/>
<use href="#m-square" x="987.4" y="1438.5"/>
<use href="#m-square" x="1011.4" y="1438.5"/>
<use href="#m-square" x="1032.4" y="1438.5"/>
<use href="#m-square" x="1056.4" y="1438.5"/>
<use href="#m-square" x="1077.4" y="1438.5"/>
<use href="#m-square" x="1098.4" y="1438.5"/>
<use href="#m-square" x="1122.4" y="1438.5"/>
<use href="#m-square" x="1143.4" y="1438.5"/>
<use href="#m-square" x="1167.4" y="1438.5"/>
<use href="#m-square" x="1188.4" y="1438.5"/>
<use href="#m-square" x="1209.4" y="1438.5"/>
<use href="#m-square" x="1233.4" y="1447.5"/>
<use href="#m-square" x="1254.4" y="1447.5"/>
<use href="#m-square" x="1278.4" y="1447.5"/>
<use href="#m-square" x="1299.4" y="1447.5"/>
<use href="#m-square" x="1320.4" y="1447.5"/>
<use href="#m-square" x="1344.4" y="1447.5"/>
<use href="#m-square" x="1365.4" y="1447.5"/>
<use href="#m-square" x="1389.4" y="1447.5"/>
<use href="#m-square" x="1410.4" y="1447.5"/>
<use href="#m-square" x="1434.4" y="1447.5"/>
<use href="#m-square" x="1455.4" y="1447.5"/>
<use href="#m-square" x="1476.4" y="1447.5"/>
<use href="#m-square" x="1500.4" y="1447.5"/>
<use href="#m-square" x="1521.4" y="1447.5"/>
<use href="#m-square" x="1545.4" y="1447.5"/>
<use href="#m-square" x="1566.4" y="1447.5"/>
<use href="#m-square" x="1587.4" y="1447.5"/>
<use href="#m-square" x="1611.4" y="1447.5"/>
<use href="#m-square" x="1632.4" y="1447.5"/>
<use href="#m-square" x="1656.4" y="1447.5"/>
<use href="#m-square" x="1677.4" y="1447.5"/>
<use href="#m-square" x="1698.4" y="1447.5"/>
<use href="#m-square" x="1722.4" y="1447.5"/>
<use href="#m-square" x="1743.4" y="1447.5"/>
<use href="#m-square" x="1767.4" y="1447.5"/>
<use href="#m-square" x="1788.4" y="1447.5"/>
<use href="#m-square" x="1809.4" y="1447.5"/>
<use href="#m-square" x="1833.4" y="1447.5"/>
<use href="#m-square" x="1854.4" y="1447.5"/>
<use href="#m-square" x="1878.4" y="1447.5"/>
<use href="#m-square" x="1899.4" y="1447.5"/>
<use href="#m-square" x="1920.4" y="1447.5"/>
<use href="#m-square" x="1944.4" y="1447.5"/>
<use href="#m-square" x="1965.4" y="1447.5"/>
<use href="#m-square" x="1989.4" y="1447.5"/>
<use href="#m-square" x="2010.4" y="1447.5"/>
<use href="#m-square" x="2034.4" y="1447.5"/>
<use href="#m-square" x="2055.4" y="1447.5"/>
<use href="#m-square" x="2076.4" y="1447.5"/>
<use href="#m-square" x="2100.4" y="1447.5"/>
<use href="#m-square" x="2121.4" y="1447.5"/>
<use href="#m-square" x="2145.4" y="1447.5"/>
<use href="#m-square" x="2166.4" y="1453.5"/>
<use href="#m-square" x="2187.4" y="1453.5"/>
<use href="#m-square" x="2211.4" y="1453.5"/>
<use href="#m-square" x="2232.4" y="1453.5"/>
<use href="#m-square" x="2256.4" y="1453.5"/>
<use href="#m-square" x="2277.4" y="1453.5"/>
<use href="#m-square" x="2298.4" y="1453.5"/>
<use href="#m-square" x="2322.4" y="1453.5"/>
<use href="#m-square" x="2343.4" y="1453.5"/>
<use href="#m-square" x="2367.4" y="1453.5"/>
<use href="#m-square" x="2388.4" y="1453.5"/>
<use href="#m-square" x="2412.4" y="1453.5"/>
</g>
<g fill="#4dbeee" stroke="#4dbeee" stroke-width="0">
<polyline fill="none" stroke-width="8.9" stroke-linejoin="round" points="210.2,115.4 232.5,115.4 254.7,115.4 276.9,115.4 299.1,379.8 321.4,379.8 343.6,865.3 365.8,865.3 388.1,889 410.3,916.2 432.5,1104.3 454.8,1208 477,1208 499.2,1208 521.5,1208 543.7,1208 565.9,1208 588.1,1208 610.4,1208 632.6,1208 654.8,1208 677.1,1208 699.3,1208 721.5,1208 743.8,1214 766,1216.7 788.2,1216.7 810.4,1226.2 832.7,1226.2 854.9,1265.2 877.1,1265.2 899.4,1384.8 921.6,1384.8 943.8,1384.8 966,1384.8 988.3,1384.8 1010.5,1384.8 1032.7,1384.8 1055,1384.8 1077.2,1384.8 1099.4,1418.9 1121.7,1418.9 1143.9,1418.9 1166.1,1418.9 1188.3,1418.9 1210.6,1418.9 1232.8,1418.9 1255,1418.9 1277.3,1418.9 1299.5,1418.9 1321.7,1418.9 1344,1425 1366.2,1434 1388.4,1442.6 1410.7,1442.6 1432.9,1442.6 1455.1,1442.6 1477.3,1442.6 1499.6,1442.6 1521.8,1442.6 1544,1442.6 1566.3,1442.6 1588.5,1442.6 1610.7,1442.6 1633,1442.6 1655.2,1442.6 1677.4,1442.6 1699.6,1442.6 1721.9,1442.6 1744.1,1442.6 1766.3,1442.6 1788.6,1442.6 1810.8,1442.6 1833,1442.6 1855.2,1442.6 1877.5,1442.6 1899.7,1447.5 1921.9,1447.5 1944.2,1447.5 1966.4,1447.5 1988.6,1447.5 2010.9,1447.5 2033.1,1447.5 2055.3,1447.5 2077.6,1447.5 2099.8,1447.5 2122,1447.5 2144.2,1447.5 2166.5,1447.5 2188.7,1447.5 2210.9,1447.5 2233.2,1447.5 2255.4,1453.5 2277.6,1453.5 2299.8,1453.5 2322.1,1453.5 2344.3,1453.5 2366.5,1453.5 2388.8,1453.5 2411,1453.5"/>
<use href="#m-hex6" x="210.4" y="115.5"/>
<use href="#m-hex6" x="231.4" y="115.5"/>
<use href="#m-hex6" x="255.4" y="115.5"/>
<use href="#m-hex6" x="276.4" y="115.5"/>
<use href="#m-hex6" x="300.4" y="379.5"/>
<use href="#m-hex6" x="321.4" y="379.5"/>
<use href="#m-hex6" x="342.4" y="865.5"/>
<use href="#m-hex6" x="366.4" y="865.5"/>
<use href="#m-hex6" x="387.4" y="889.5"/>
<use href="#m-hex6" x="411.4" y="916.5"/>
<use href="#m-hex6" x="432.4" y="1105.5"/>
<use href="#m-hex6" x="453.4" y="1207.5"/>
<use href="#m-hex6" x="477.4" y="1207.5"/>
<use href="#m-hex6" x="498.4" y="1207.5"/>
<use href="#m-hex6" x="522.4" y="1207.5"/>
<use href="#m-hex6" x="543.4" y="1207.5"/>
<use href="#m-hex6" x="564.4" y="1207.5"/>
<use href="#m-hex6" x="588.4" y="1207.5"/>
<use href="#m-hex6" x="609.4" y="1207.5"/>
<use href="#m-hex6" x="633.4" y="1207.5"/>
<use href="#m-hex6" x="654.4" y="1207.5"/>
<use href="#m-hex6" x="678.4" y="1207.5"/>
<use href="#m-hex6" x="699.4" y="1207.5"/>
<use href="#m-hex6" x="720.4" y="1207.5"/>
<use href="#m-hex6" x="744.4" y="1213.5"/>
<use href="#m-hex6" x="765.4" y="1216.5"/>
<use href="#m-hex6" x="789.4" y="1216.5"/>
<use href="#m-hex6" x="810.4" y="1225.5"/>
<use href="#m-hex6" x="831.4" y="1225.5"/>
<use href="#m-hex6" x="855.4" y="1264.5"/>
<use href="#m-hex6" x="876.4" y="1264.5"/>
<use href="#m-hex6" x="900.4" y="1384.5"/>
<use href="#m-hex6" x="921.4" y="1384.5"/>
<use href="#m-hex6" x="942.4" y="1384.5"/>
<use href="#m-hex6" x="966.4" y="1384.5"/>
<use href="#m-hex6" x="987.4" y="1384.5"/>
<use href="#m-hex6" x="1011.4" y="1384.5"/>
<use href="#m-hex6" x="1032.4" y="1384.5"/>
<use href="#m-hex6" x="1056.4" y="1384.5"/>
<use href="#m-hex6" x="1077.4" y="1384.5"/>
<use href="#m-hex6" x="1098.4" y="1417.5"/>
<use href="#m-hex6" x="1122.4" y="1417.5"/>
<use href="#m-hex6" x="1143.4" y="1417.5"/>
<use href="#m-hex6" x="1167.4" y="1417.5"/>
<use href="#m-hex6" x="1188.4" y="1417.5"/>
<use href="#m-hex6" x="1209.4" y="1417.5"/>
<use href="#m-hex6" x="1233.4" y="1417.5"/>
<use href="#m-hex6" x="1254.4" y="1417.5"/>
<use href="#m-hex6" x="1278.4" y="1417.5"/>
<use href="#m-hex6" x="1299.4" y="1417.5"/>
<use href="#m-hex6" x="1320.4" y="1417.5"/>
<use href="#m-hex6" x="1344.4" y="1423.5"/>
<use href="#m-hex6" x="1365.4" y="1435.5"/>
<use href="#m-hex6" x="1389.4" y="1441.5"/>
<use href="#m-hex6" x="1410.4" y="1441.5"/>
<use href="#m-hex6" x="1434.4" y="1441.5"/>
<use href="#m-hex6" x="1455.4" y="1441.5"/>
<use href="#m-hex6" x="1476.4" y="1441.5"/>
<use href="#m-hex6" x="1500.4" y="1441.5"/>
<use href="#m-hex6" x="1521.4" y="1441.5"/>
<use href="#m-hex6" x="1545.4" y="1441.5"/>
<use href="#m-hex6" x="1566.4" y="1441.5"/>
<use href="#m-hex6" x="1587.4" y="1441.5"/>
<use href="#m-hex6" x="1611.4" y="1441.5"/>
<use href="#m-hex6" x="1632.4" y="1441.5"/>
<use href="#m-hex6" x="1656.4" y="1441.5"/>
<use href="#m-hex6" x="1677.4" y="1441.5"/>
<use href="#m-hex6" x="1698.4" y="1441.5"/>
<use href="#m-hex6" x="1722.4" y="1441.5"/>
<use href="#m-hex6" x="1743.4" y="1441.5"/>
<use href="#m-hex6" x="1767.4" y="1441.5"/>
<use href="#m-hex6" x="1788.4" y="1441.5"/>
<use href="#m-hex6" x="1809.4" y="1441.5"/>
<use href="#m-hex6" x="1833.4" y="1441.5"/>
<use href="#m-hex6" x="1854.4" y="1441.5"/>
<use href="#m-hex6" x="1878.4" y="1441.5"/>
<use href="#m-hex6" x="1899.4" y="1447.5"/>
<use href="#m-hex6" x="1920.4" y="1447.5"/>
<use href="#m-hex6" x="1944.4" y="1447.5"/>
<use href="#m-hex6" x="1965.4" y="1447.5"/>
<use href="#m-hex6" x="1989.4" y="1447.5"/>
<use href="#m-hex6" x="2010.4" y="1447.5"/>
<use href="#m-hex6" x="2034.4" y="1447.5"/>
<use href="#m-hex6" x="2055.4" y="1447.5"/>
<use href="#m-hex6" x="2076.4" y="1447.5"/>
<use href="#m-hex6" x="2100.4" y="1447.5"/>
<use href="#m-hex6" x="2121.4" y="1447.5"/>
<use href="#m-hex6" x="2145.4" y="1447.5"/>
<use href="#m-hex6" x="2166.4" y="1447.5"/>
<use href="#m-hex6" x="2187.4" y="1447.5"/>
<use href="#m-hex6" x="2211.4" y="1447.5"/>
<use href="#m-hex6" x="2232.4" y="1447.5"/>
<use href="#m-hex6" x="2256.4" y="1453.5"/>
<use href="#m-hex6" x="2277.4" y="1453.5"/>
<use href="#m-hex6" x="2298.4" y="1453.5"/>
<use href="#m-hex6" x="2322.4" y="1453.5"/>
<use href="#m-hex6" x="2343.4" y="1453.5"/>
<use href="#m-hex6" x="2367.4" y="1453.5"/>
<use href="#m-hex6" x="2388.4" y="1453.5"/>
<use href="#m-hex6" x="2412.4" y="1453.5"/>
</g>
<g fill="#a2142f" stroke="#a2142f" stroke-width="0">
<polyline fill="none" stroke-width="8.9" stroke-linejoin="round" points="210.2,1090.9 232.5,1090.9 254.7,1090.9 276.9,1090.9 299.1,1090.9 321.4,1090.9 343.6,1112 365.8,1114.8 388.1,1114.8 410.3,1114.8 432.5,1114.8 454.8,1114.8 477,1114.8 499.2,1114.8 521.5,1123.4 543.7,1123.4 565.9,1123.4 588.1,1192.4 610.4,1192.4 632.6,1192.4 654.8,1192.4 677.1,1192.4 699.3,1192.4 721.5,1192.4 743.8,1192.4 766,1195.6 788.2,1195.6 810.4,1195.6 832.7,1195.6 854.9,1195.6 877.1,1195.6 899.4,1346 921.6,1346 943.8,1346 966,1346 988.3,1346 1010.5,1346 1032.7,1346 1055,1346 1077.2,1346 1099.4,1409 1121.7,1409 1143.9,1409 1166.1,1409 1188.3,1409 1210.6,1409 1232.8,1409 1255,1409 1277.3,1412.2 1299.5,1417.7 1321.7,1417.7 1344,1417.7 1366.2,1417.7 1388.4,1417.7 1410.7,1417.7 1432.9,1417.7 1455.1,1417.7 1477.3,1417.7 1499.6,1417.7 1521.8,1425.8 1544,1425.8 1566.3,1425.8 1588.5,1425.8 1610.7,1425.8 1633,1425.8 1655.2,1425.8 1677.4,1425.8 1699.6,1425.8 1721.9,1425.8 1744.1,1425.8 1766.3,1425.8 1788.6,1425.8 1810.8,1425.8 1833,1425.8 1855.2,1429.2 1877.5,1456 1899.7,1456 1921.9,1456 1944.2,1456 1966.4,1456 1988.6,1456 2010.9,1456 2033.1,1456 2055.3,1456 2077.6,1456 2099.8,1456 2122,1456 2144.2,1456 2166.5,1456 2188.7,1456 2210.9,1456 2233.2,1456 2255.4,1456 2277.6,1456 2299.8,1456 2322.1,1456 2344.3,1456 2366.5,1456 2388.8,1456 2411,1456"/>
<use href="#m-circle" x="210.4" y="1090.5"/>
<use href="#m-circle" x="231.4" y="1090.5"/>
<use href="#m-circle" x="255.4" y="1090.5"/>
<use href="#m-circle" x="276.4" y="1090.5"/>
<use href="#m-circle" x="300.4" y="1090.5"/>
<use href="#m-circle" x="321.4" y="1090.5"/>
<use href="#m-circle" x="342.4" y="1111.5"/>
<use href="#m-circle" x="366.4" y="1114.5"/>
<use href="#m-circle" x="387.4" y="1114.5"/>
<use href="#m-circle" x="411.4" y="1114.5"/>
<use href="#m-circle" x="432.4" y="1114.5"/>
<use href="#m-circle" x="453.4" y="1114.5"/>
<use href="#m-circle" x="477.4" y="1114.5"/>
<use href="#m-circle" x="498.4" y="1114.5"/>
<use href="#m-circle" x="522.4" y="1123.5"/>
<use href="#m-circle" x="543.4" y="1123.5"/>
<use href="#m-circle" x="564.4" y="1123.5"/>
<use href="#m-circle" x="588.4" y="1192.5"/>
<use href="#m-circle" x="609.4" y="1192.5"/>
<use href="#m-circle" x="633.4" y="1192.5"/>
<use href="#m-circle" x="654.4" y="1192.5"/>
<use href="#m-circle" x="678.4" y="1192.5"/>
<use href="#m-circle" x="699.4" y="1192.5"/>
<use href="#m-circle" x="720.4" y="1192.5"/>
<use href="#m-circle" x="744.4" y="1192.5"/>
<use href="#m-circle" x="765.4" y="1195.5"/>
<use href="#m-circle" x="789.4" y="1195.5"/>
<use href="#m-circle" x="810.4" y="1195.5"/>
<use href="#m-circle" x="831.4" y="1195.5"/>
<use href="#m-circle" x="855.4" y="1195.5"/>
<use href="#m-circle" x="876.4" y="1195.5"/>
<use href="#m-circle" x="900.4" y="1345.5"/>
<use href="#m-circle" x="921.4" y="1345.5"/>
<use href="#m-circle" x="942.4" y="1345.5"/>
<use href="#m-circle" x="966.4" y="1345.5"/>
<use href="#m-circle" x="987.4" y="1345.5"/>
<use href="#m-circle" x="1011.4" y="1345.5"/>
<use href="#m-circle" x="1032.4" y="1345.5"/>
<use href="#m-circle" x="1056.4" y="1345.5"/>
<use href="#m-circle" x="1077.4" y="1345.5"/>
<use href="#m-circle" x="1098.4" y="1408.5"/>
<use href="#m-circle" x="1122.4" y="1408.5"/>
<use href="#m-circle" x="1143.4" y="1408.5"/>
<use href="#m-circle" x="1167.4" y="1408.5"/>
<use href="#m-circle" x="1188.4" y="1408.5"/>
<use href="#m-circle" x="1209.4" y="1408.5"/>
<use href="#m-circle" x="1233.4" y="1408.5"/>
<use href="#m-circle" x="1254.4" y="1408.5"/>
<use href="#m-circle" x="1278.4" y="1411.5"/>
<use href="#m-circle" x="1299.4" y="1417.5"/>
<use href="#m-circle" x="1320.4" y="1417.5"/>
<use href="#m-circle" x="1344.4" y="1417.5"/>
<use href="#m-circle" x="1365.4" y="1417.5"/>
<use href="#m-circle" x="1389.4" y="1417.5"/>
<use href="#m-circle" x="1410.4" y="1417.5"/>
<use href="#m-circle" x="1434.4" y="1417.5"/>
<use href="#m-circle" x="1455.4" y="1417.5"/>
<use href="#m-circle" x="1476.4" y="1417.5"/>
<use href="#m-circle" x="1500.4" y="1417.5"/>
<use href="#m-circle" x="1521.4" y="1426.5"/>
<use href="#m-circle" x="1545.4" y="1426.5"/>
<use href="#m-circle" x="1566.4" y="1426.5"/>
<use href="#m-circle" x="1587.4" y="1426.5"/>
<use href="#m-circle" x="1611.4" y="1426.5"/>
<use href="#m-circle" x="1632.4" y="1426.5"/>
<use href="#m-circle" x="1656.4" y="1426.5"/>
<use href="#m-circle" x="1677.4" y="1426.5"/>
<use href="#m-circle" x="1698.4" y="1426.5"/>
<use href="#m-circle" x="1722.4" y="1426.5"/>
<use href="#m-circle" x="1743.4" y="1426.5"/>
<use href="#m-circle" x="1767.4" y="1426.5"/>
<use href="#m-circle" x="1788.4" y="1426.5"/>
<use href="#m-circle" x="1809.4" y="1426.5"/>
<use href="#m-circle" x="1833.4" y="1426.5"/>
<use href="#m-circle" x="1854.4" y="1429.5"/>
<use href="#m-circle" x="1878.4" y="1456.5"/>
<use href="#m-circle" x="1899.4" y="1456.5"/>
<use href="#m-circle" x="1920.4" y="1456.5"/>
<use href="#m-circle" x="1944.4" y="1456.5"/>
<use href="#m-circle" x="1965.4" y="1456.5"/>
<use href="#m-circle" x="1989.4" y="1456.5"/>
<use href="#m-circle" x="2010.4" y="1456.5"/>
<use href="#m-circle" x="2034.4" y="1456.5"/>
<use href="#m-circle" x="2055.4" y="1456.5"/>
<use href="#m-circle" x="2076.4" y="1456.5"/>
<use href="#m-circle" x="2100.4" y="1456.5"/>
<use href="#m-circle" x="2121.4" y="1456.5"/>
<use href="#m-circle" x="2145.4" y="1456.5"/>
<use href="#m-circle" x="2166.4" y="1456.5"/>
<use href="#m-circle" x="2187.4" y="1456.5"/>
<use href="#m-circle" x="2211.4" y="1456.5"/>
<use href="#m-circle" x="2232.4" y="1456.5"/>
<use href="#m-circle" x="2256.4" y="1456.5"/>
<use href="#m-circle" x="2277.4" y="1456.5"/>
<use href="#m-circle" x="2298.4" y="1456.5"/>
<use href="#m-circle" x="2322.4" y="1456.5"/>
<use href="#m-circle" x="2343.4" y="1456.5"/>
<use href="#m-circle" x="2367.4" y="1456.5"/>
<use href="#m-circle" x="2388.4" y="1456.5"/>
<use href="#m-circle" x="2412.4" y="1456.5"/>
</g>
<g fill="#0072bd" stroke="#0072bd" stroke-width="0">
<polyline fill="none" stroke-width="8.9" stroke-linejoin="round" points="210.2,635.1 232.5,641 254.7,641 276.9,641 299.1,641 321.4,641 343.6,641 365.8,919.3 388.1,1045.5 410.3,1045.5 432.5,1045.5 454.8,1045.5 477,1083.5 499.2,1263.9 521.5,1385.8 543.7,1385.8 565.9,1385.8 588.1,1385.8 610.4,1385.8 632.6,1385.8 654.8,1385.8 677.1,1385.8 699.3,1385.8 721.5,1385.8 743.8,1385.8 766,1403.7 788.2,1403.7 810.4,1403.7 832.7,1403.7 854.9,1426.5 877.1,1426.5 899.4,1426.5 921.6,1426.5 943.8,1426.5 966,1441 988.3,1441 1010.5,1441 1032.7,1441 1055,1441 1077.2,1441 1099.4,1441 1121.7,1441 1143.9,1441 1166.1,1441 1188.3,1441 1210.6,1441 1232.8,1441 1255,1441 1277.3,1441 1299.5,1441 1321.7,1441 1344,1441 1366.2,1441 1388.4,1457.6 1410.7,1457.6 1432.9,1457.6 1455.1,1457.6 1477.3,1457.6 1499.6,1457.6 1521.8,1457.6 1544,1457.6 1566.3,1457.6 1588.5,1457.6 1610.7,1457.6 1633,1457.6 1655.2,1457.6 1677.4,1457.6 1699.6,1457.6 1721.9,1457.6 1744.1,1457.6 1766.3,1457.6 1788.6,1457.6 1810.8,1457.6 1833,1457.6 1855.2,1457.6 1877.5,1457.6 1899.7,1457.6 1921.9,1457.6 1944.2,1457.6 1966.4,1457.6 1988.6,1457.6 2010.9,1457.6 2033.1,1457.6 2055.3,1457.6 2077.6,1457.6 2099.8,1457.6 2122,1457.6 2144.2,1457.6 2166.5,1457.6 2188.7,1457.6 2210.9,1457.6 2233.2,1457.6 2255.4,1457.6 2277.6,1457.6 2299.8,1457.6 2322.1,1457.6 2344.3,1457.6 2366.5,1457.6 2388.8,1457.6 2411,1457.6"/>
<use href="#m-plus" x="210.4" y="634.5"/>
<use href="#m-plus" x="231.4" y="640.5"/>
<use href="#m-plus" x="255.4" y="640.5"/>
<use href="#m-plus" x="276.4" y="640.5"/>
<use href="#m-plus" x="300.4" y="640.5"/>
<use href="#m-plus" x="321.4" y="640.5"/>
<use href="#m-plus" x="342.4" y="640.5"/>
<use href="#m-plus" x="366.4" y="919.5"/>
<use href="#m-plus" x="387.4" y="1045.5"/>
<use href="#m-plus" x="411.4" y="1045.5"/>
<use href="#m-plus" x="432.4" y="1045.5"/>
<use href="#m-plus" x="453.4" y="1045.5"/>
<use href="#m-plus" x="477.4" y="1084.5"/>
<use href="#m-plus" x="498.4" y="1264.5"/>
<use href="#m-plus" x="522.4" y="1384.5"/>
<use href="#m-plus" x="543.4" y="1384.5"/>
<use href="#m-plus" x="564.4" y="1384.5"/>
<use href="#m-plus" x="588.4" y="1384.5"/>
<use href="#m-plus" x="609.4" y="1384.5"/>
<use href="#m-plus" x="633.4" y="1384.5"/>
<use href="#m-plus" x="654.4" y="1384.5"/>
<use href="#m-plus" x="678.4" y="1384.5"/>
<use href="#m-plus" x="699.4" y="1384.5"/>
<use href="#m-plus" x="720.4" y="1384.5"/>
<use href="#m-plus" x="744.4" y="1384.5"/>
<use href="#m-plus" x="765.4" y="1402.5"/>
<use href="#m-plus" x="789.4" y="1402.5"/>
<use href="#m-plus" x="810.4" y="1402.5"/>
<use href="#m-plus" x="831.4" y="1402.5"/>
<use href="#m-plus" x="855.4" y="1426.5"/>
<use href="#m-plus" x="876.4" y="1426.5"/>
<use href="#m-plus" x="900.4" y="1426.5"/>
<use href="#m-plus" x="921.4" y="1426.5"/>
<use href="#m-plus" x="942.4" y="1426.5"/>
<use href="#m-plus" x="966.4" y="1441.5"/>
<use href="#m-plus" x="987.4" y="1441.5"/>
<use href="#m-plus" x="1011.4" y="1441.5"/>
<use href="#m-plus" x="1032.4" y="1441.5"/>
<use href="#m-plus" x="1056.4" y="1441.5"/>
<use href="#m-plus" x="1077.4" y="1441.5"/>
<use href="#m-plus" x="1098.4" y="1441.5"/>
<use href="#m-plus" x="1122.4" y="1441.5"/>
<use href="#m-plus" x="1143.4" y="1441.5"/>
<use href="#m-plus" x="1167.4" y="1441.5"/>
<use href="#m-plus" x="1188.4" y="1441.5"/>
<use href="#m-plus" x="1209.4" y="1441.5"/>
<use href="#m-plus" x="1233.4" y="1441.5"/>
<use href="#m-plus" x="1254.4" y="1441.5"/>
<use href="#m-plus" x="1278.4" y="1441.5"/>
<use href="#m-plus" x="1299.4" y="1441.5"/>
<use href="#m-plus" x="1320.4" y="1441.5"/>
<use href="#m-plus" x="1344.4" y="1441.5"/>
<use href="#m-plus" x="1365.4" y="1441.5"/>
<use href="#m-plus" x="1389.4" y="1456.5"/>
<use href="#m-plus" x="1410.4" y="1456.5"/>
<use href="#m-plus" x="1434.4" y="1456.5"/>
<use href="#m-plus" x="1455.4" y="1456.5"/>
<use href="#m-plus" x="1476.4" y="1456.5"/>
<use href="#m-plus" x="1500.4" y="1456.5"/>
<use href="#m-plus" x="1521.4" y="1456.5"/>
<use href="#m-plus" x="1545.4" y="1456.5"/>
<use href="#m-plus" x="1566.4" y="1456.5"/>
<use href="#m-plus" x="1587.4" y="1456.5"/>
<use href="#m-plus" x="1611.4" y="1456.5"/>
<use href="#m-plus" x="1632.4" y="1456.5"/>
<use href="#m-plus" x="1656.4" y="1456.5"/>
<use href="#m-plus" x="1677.4" y="1456.5"/>
<use href="#m-plus" x="1698.4" y="1456.5"/>
<use href="#m-plus" x="1722.4" y="1456.5"/>
<use href="#m-plus" x="1743.4" y="1456.5"/>
<use href="#m-plus" x="1767.4" y="1456.5"/>
<use href="#m-plus" x="1788.4" y="1456.5"/>
<use href="#m-plus" x="1809.4" y="1456.5"/>
<use href="#m-plus" x="1833.4" y="1456.5"/>
<use href="#m-plus" x="1854.4" y="1456.5"/>
<use href="#m-plus" x="1878.4" y="1456.5"/>
<use href="#m-plus" x="1899.4" y="1456.5"/>
<use href="#m-plus" x="1920.4" y="1456.5"/>
<use href="#m-plus" x="1944.4" y="1456.5"/>
<use href="#m-plus" x="1965.4" y="1456.5"/>
<use href="#m-plus" x="1989.4" y="1456.5"/>
<use href="#m-plus" x="2010.4" y="1456.5"/>
<use href="#m-plus" x="2034.4" y="1456.5"/>
<use href="#m-plus" x="2055.4" y="1456.5"/>
<use href="#m-plus" x="2076.4" y="1456.5"/>
<use href="#m-plus" x="2100.4" y="1456.5"/>
<use href="#m-plus" x="2121.4" y="1456.5"/>
<use href="#m-plus" x="2145.4" y="1456.5"/>
<use href="#m-plus" x="2166.4" y="1456.5"/>
<use href="#m-plus" x="2187.4" y="1456.5"/>
<use href="#m-plus" x="2211.4" y="1456.5"/>
<use href="#m-plus" x="2232.4" y="1456.5"/>
<use href="#m-plus" x="2256.4" y="1456.5"/>
<use href="#m-plus" x="2277.4" y="1456.5"/>
<use href="#m-plus" x="2298.4" y="1456.5"/>
<use href="#m-plus" x="2322.4" y="1456.5"/>
<use href="#m-plus" x="2343.4" y="1456.5"/>
<use href="#m-plus" x="2367.4" y="1456.5"/>
<use href="#m-plus" x="2388.4" y="1456.5"/>
<use href="#m-plus" x="2412.4" y="1456.5"/>
</g>
<g fill="#d95319" stroke="#d95319" stroke-width="0">
<polyline fill="none" stroke-width="8.9" stroke-linejoin="round" points="210.2,1019.6 232.5,1091.5 254.7,1091.5 276.9,1373.6 299.1,1373.6 321.4,1395 343.6,1395 365.8,1395 388.1,1395 410.3,1395 432.5,1395 454.8,1395 477,1395 499.2,1430.8 521.5,1430.8 543.7,1430.8 565.9,1439 588.1,1439 610.4,1439 632.6,1439 654.8,1439 677.1,1439 699.3,1439 721.5,1439 743.8,1439 766,1439 788.2,1439 810.4,1439 832.7,1439 854.9,1439 877.1,1439 899.4,1439 921.6,1439 943.8,1439 966,1439 988.3,1439 1010.5,1439 1032.7,1439 1055,1439 1077.2,1439 1099.4,1439 1121.7,1444.3 1143.9,1444.3 1166.1,1444.3 1188.3,1444.3 1210.6,1444.3 1232.8,1444.3 1255,1444.3 1277.3,1444.3 1299.5,1444.3 1321.7,1444.3 1344,1444.3 1366.2,1444.3 1388.4,1444.3 1410.7,1444.3 1432.9,1444.3 1455.1,1444.3 1477.3,1444.3 1499.6,1444.3 1521.8,1457 1544,1457 1566.3,1457 1588.5,1457 1610.7,1457 1633,1457 1655.2,1457 1677.4,1457 1699.6,1457 1721.9,1457 1744.1,1457 1766.3,1457 1788.6,1457 1810.8,1457 1833,1457 1855.2,1457 1877.5,1457 1899.7,1457 1921.9,1457 1944.2,1457 1966.4,1457 1988.6,1457 2010.9,1457 2033.1,1457 2055.3,1457 2077.6,1457 2099.8,1457 2122,1457 2144.2,1457 2166.5,1457 2188.7,1457 2210.9,1457 2233.2,1457 2255.4,1457 2277.6,1457 2299.8,1457 2322.1,1457 2344.3,1457 2366.5,1457 2388.8,1457 2411,1457"/>
<use href="#m-down" x="210.4" y="1018.5"/>
<use href="#m-down" x="231.4" y="1090.5"/>
<use href="#m-down" x="255.4" y="1090.5"/>
<use href="#m-down" x="276.4" y="1372.5"/>
<use href="#m-down" x="300.4" y="1372.5"/>
<use href="#m-down" x="321.4" y="1393.5"/>
<use href="#m-down" x="342.4" y="1393.5"/>
<use href="#m-down" x="366.4" y="1393.5"/>
<use href="#m-down" x="387.4" y="1393.5"/>
<use href="#m-down" x="411.4" y="1393.5"/>
<use href="#m-down" x="432.4" y="1393.5"/>
<use href="#m-down" x="453.4" y="1393.5"/>
<use href="#m-down" x="477.4" y="1393.5"/>
<use href="#m-down" x="498.4" y="1429.5"/>
<use href="#m-down" x="522.4" y="1429.5"/>
<use href="#m-down" x="543.4" y="1429.5"/>
<use href="#m-down" x="564.4" y="1438.5"/>
<use href="#m-down" x="588.4" y="1438.5"/>
<use href="#m-down" x="609.4" y="1438.5"/>
<use href="#m-down" x="633.4" y="1438.5"/>
<use href="#m-down" x="654.4" y="1438.5"/>
<use href="#m-down" x="678.4" y="1438.5"/>
<use href="#m-down" x="699.4" y="1438.5"/>
<use href="#m-down" x="720.4" y="1438.5"/>
<use href="#m-down" x="744.4" y="1438.5"/>
<use href="#m-down" x="765.4" y="1438.5"/>
<use href="#m-down" x="789.4" y="1438.5"/>
<use href="#m-down" x="810.4" y="1438.5"/>
<use href="#m-down" x="831.4" y="1438.5"/>
<use href="#m-down" x="855.4" y="1438.5"/>
<use href="#m-down" x="876.4" y="1438.5"/>
<use href="#m-down" x="900.4" y="1438.5"/>
<use href="#m-down" x="921.4" y="1438.5"/>
<use href="#m-down" x="942.4" y="1438.5"/>
<use href="#m-down" x="966.4" y="1438.5"/>
<use href="#m-down" x="987.4" y="1438.5"/>
<use href="#m-down" x="1011.4" y="1438.5"/>
<use href="#m-down" x="1032.4" y="1438.5"/>
<use href="#m-down" x="1056.4" y="1438.5"/>
<use href="#m-down" x="1077.4" y="1438.5"/>
<use href="#m-down" x="1098.4" y="1438.5"/>
<use href="#m-down" x="1122.4" y="1444.5"/>
<use href="#m-down" x="1143.4" y="1444.5"/>
<use href="#m-down" x="1167.4" y="1444.5"/>
<use href="#m-down" x="1188.4" y="1444.5"/>
<use href="#m-down" x="1209.4" y="1444.5"/>
<use href="#m-down" x="1233.4" y="1444.5"/>
<use href="#m-down" x="1254.4" y="1444.5"/>
<use href="#m-down" x="1278.4" y="1444.5"/>
<use href="#m-down" x="1299.4" y="1444.5"/>
<use href="#m-down" x="1320.4" y="1444.5"/>
<use href="#m-down" x="1344.4" y="1444.5"/>
<use href="#m-down" x="1365.4" y="1444.5"/>
<use href="#m-down" x="1389.4" y="1444.5"/>
<use href="#m-down" x="1410.4" y="1444.5"/>
<use href="#m-down" x="1434.4" y="1444.5"/>
<use href="#m-down" x="1455.4" y="1444.5"/>
<use href="#m-down" x="1476.4" y="1444.5"/>
<use href="#m-down" x="1500.4" y="1444.5"/>
<use href="#m-down" x="1521.4" y="1456.5"/>
<use href="#m-down" x="1545.4" y="1456.5"/>
<use href="#m-down" x="1566.4" y="1456.5"/>
<use href="#m-down" x="1587.4" y="1456.5"/>
<use href="#m-down" x="1611.4" y="1456.5"/>
<use href="#m-down" x="1632.4" y="1456.5"/>
<use href="#m-down" x="1656.4" y="1456.5"/>
<use href="#m-down" x="1677.4" y="1456.5"/>
<use href="#m-down" x="1698.4" y="1456.5"/>
<use href="#m-down" x="1722.4" y="1456.5"/>
<use href="#m-down" x="1743.4" y="1456.5"/>
<use href="#m-down" x="1767.4" y="1456.5"/>
<use href="#m-down" x="1788.4" y="1456.5"/>
<use href="#m-down" x="1809.4" y="1456.5"/>
<use href="#m-down" x="1833.4" y="1456.5"/>
<use href="#m-down" x="1854.4" y="1456.5"/>
<use href="#m-down" x="1878.4" y="1456.5"/>
<use href="#m-down" x="1899.4" y="1456.5"/>
<use href="#m-down" x="1920.4" y="1456.5"/>
<use href="#m-down" x="1944.4" y="1456.5"/>
<use href="#m-down" x="1965.4" y="1456.5"/>
<use href="#m-down" x="1989.4" y="1456.5"/>
<use href="#m-down" x="2010.4" y="1456.5"/>
<use href="#m-down" x="2034.4" y="1456.5"/>
<use href="#m-down" x="2055.4" y="1456.5"/>
<use href="#m-down" x="2076.4" y="1456.5"/>
<use href="#m-down" x="2100.4" y="1456.5"/>
<use href="#m-down" x="2121.4" y="1456.5"/>
<use href="#m-down" x="2145.4" y="1456.5"/>
<use href="#m-down" x="2166.4" y="1456.5"/>
<use href="#m-down" x="2187.4" y="1456.5"/>
<use href="#m-down" x="2211.4" y="1456.5"/>
<use href="#m-down" x="2232.4" y="1456.5"/>
<use href="#m-down" x="2256.4" y="1456.5"/>
<use href="#m-down" x="2277.4" y="1456.5"/>
<use href="#m-down" x="2298.4" y="1456.5"/>
<use href="#m-down" x="2322.4" y="1456.5"/>
<use href="#m-down" x="2343.4" y="1456.5"/>
<use href="#m-down" x="2367.4" y="1456.5"/>
<use href="#m-down" x="2388.4" y="1456.5"/>
<use href="#m-down" x="2412.4" y="1456.5"/>
</g>
<g fill="#edb120" stroke="#edb120" stroke-width="0">
<polyline fill="none" stroke-width="8.9" stroke-linejoin="round" points="210.2,767.2 232.5,767.2 254.7,767.2 276.9,767.2 299.1,767.2 321.4,767.2 343.6,829.7 365.8,829.7 388.1,1030.3 410.3,1058 432.5,1058 454.8,1058 477,1248.6 499.2,1248.6 521.5,1248.6 543.7,1248.6 565.9,1379.6 588.1,1379.6 610.4,1379.6 632.6,1429.5 654.8,1429.5 677.1,1429.5 699.3,1429.5 721.5,1429.5 743.8,1429.5 766,1431.5 788.2,1431.5 810.4,1431.5 832.7,1431.5 854.9,1431.5 877.1,1431.5 899.4,1431.5 921.6,1440.7 943.8,1440.7 966,1440.7 988.3,1440.7 1010.5,1440.7 1032.7,1440.7 1055,1440.7 1077.2,1440.7 1099.4,1440.7 1121.7,1440.7 1143.9,1440.7 1166.1,1440.7 1188.3,1440.7 1210.6,1440.7 1232.8,1440.7 1255,1440.7 1277.3,1440.7 1299.5,1440.7 1321.7,1440.7 1344,1440.7 1366.2,1440.7 1388.4,1440.7 1410.7,1440.7 1432.9,1440.7 1455.1,1440.7 1477.3,1440.7 1499.6,1440.7 1521.8,1440.7 1544,1440.7 1566.3,1440.7 1588.5,1440.7 1610.7,1440.7 1633,1440.7 1655.2,1440.7 1677.4,1440.7 1699.6,1440.7 1721.9,1440.7 1744.1,1440.7 1766.3,1440.7 1788.6,1440.7 1810.8,1440.7 1833,1440.7 1855.2,1440.7 1877.5,1440.7 1899.7,1440.7 1921.9,1440.7 1944.2,1440.7 1966.4,1440.7 1988.6,1440.7 2010.9,1440.7 2033.1,1440.7 2055.3,1440.7 2077.6,1440.7 2099.8,1440.7 2122,1440.7 2144.2,1440.7 2166.5,1455.4 2188.7,1455.4 2210.9,1455.4 2233.2,1455.4 2255.4,1455.4 2277.6,1455.4 2299.8,1455.4 2322.1,1455.4 2344.3,1455.4 2366.5,1455.4 2388.8,1455.4 2411,1455.4"/>
<use href="#m-up" x="210.4" y="766.5"/>
<use href="#m-up" x="231.4" y="766.5"/>
<use href="#m-up" x="255.4" y="766.5"/>
<use href="#m-up" x="276.4" y="766.5"/>
<use href="#m-up" x="300.4" y="766.5"/>
<use href="#m-up" x="321.4" y="766.5"/>
<use href="#m-up" x="342.4" y="829.5"/>
<use href="#m-up" x="366.4" y="829.5"/>
<use href="#m-up" x="387.4" y="1030.5"/>
<use href="#m-up" x="411.4" y="1057.5"/>
<use href="#m-up" x="432.4" y="1057.5"/>
<use href="#m-up" x="453.4" y="1057.5"/>
<use href="#m-up" x="477.4" y="1249.5"/>
<use href="#m-up" x="498.4" y="1249.5"/>
<use href="#m-up" x="522.4" y="1249.5"/>
<use href="#m-up" x="543.4" y="1249.5"/>
<use href="#m-up" x="564.4" y="1378.5"/>
<use href="#m-up" x="588.4" y="1378.5"/>
<use href="#m-up" x="609.4" y="1378.5"/>
<use href="#m-up" x="633.4" y="1429.5"/>
<use href="#m-up" x="654.4" y="1429.5"/>
<use href="#m-up" x="678.4" y="1429.5"/>
<use href="#m-up" x="699.4" y="1429.5"/>
<use href="#m-up" x="720.4" y="1429.5"/>
<use href="#m-up" x="744.4" y="1429.5"/>
<use href="#m-up" x="765.4" y="1432.5"/>
<use href="#m-up" x="789.4" y="1432.5"/>
<use href="#m-up" x="810.4" y="1432.5"/>
<use href="#m-up" x="831.4" y="1432.5"/>
<use href="#m-up" x="855.4" y="1432.5"/>
<use href="#m-up" x="876.4" y="1432.5"/>
<use href="#m-up" x="900.4" y="1432.5"/>
<use href="#m-up" x="921.4" y="1441.5"/>
<use href="#m-up" x="942.4" y="1441.5"/>
<use href="#m-up" x="966.4" y="1441.5"/>
<use href="#m-up" x="987.4" y="1441.5"/>
<use href="#m-up" x="1011.4" y="1441.5"/>
<use href="#m-up" x="1032.4" y="1441.5"/>
<use href="#m-up" x="1056.4" y="1441.5"/>
<use href="#m-up" x="1077.4" y="1441.5"/>
<use href="#m-up" x="1098.4" y="1441.5"/>
<use href="#m-up" x="1122.4" y="1441.5"/>
<use href="#m-up" x="1143.4" y="1441.5"/>
<use href="#m-up" x="1167.4" y="1441.5"/>
<use href="#m-up" x="1188.4" y="1441.5"/>
<use href="#m-up" x="1209.4" y="1441.5"/>
<use href="#m-up" x="1233.4" y="1441.5"/>
<use href="#m-up" x="1254.4" y="1441.5"/>
<use href="#m-up" x="1278.4" y="1441.5"/>
<use href="#m-up" x="1299.4" y="1441.5"/>
<use href="#m-up" x="1320.4" y="1441.5"/>
<use href="#m-up" x="1344.4" y="1441.5"/>
<use href="#m-up" x="1365.4" y="1441.5"/>
<use href="#m-up" x="1389.4" y="1441.5"/>
<use href="#m-up" x="1410.4" y="1441.5"/>
<use href="#m-up" x="1434.4" y="1441.5"/>
<use href="#m-up" x="1455.4" y="1441.5"/>
<use href="#m-up" x="1476.4" y="1441.5"/>
<use href="#m-up" x="1500.4" y="1441.5"/>
<use href="#m-up" x="1521.4" y="1441.5"/>
<use href="#m-up" x="1545.4" y="1441.5"/>
<use href="#m-up" x="1566.4" y="1441.5"/>
<use href="#m-up" x="1587.4" y="1441.5"/>
<use href="#m-up" x="1611.4" y="1441.5"/>
<use href="#m-up" x="1632.4" y="1441.5"/>
<use href="#m-up" x="1656.4" y="1441.5"/>
<use href="#m-up" x="1677.4" y="1441.5"/>
<use href="#m-up" x="1698.4" y="1441.5"/>
<use href="#m-up" x="1722.4" y="1441.5"/>
<use href="#m-up" x="1743.4" y="1441.5"/>
<use href="#m-up" x="1767.4" y="1441.5"/>
<use href="#m-up" x="1788.4" y="1441.5"/>
<use href="#m-up" x="1809.4" y="1441.5"/>
<use href="#m-up" x="1833.4" y="1441.5"/>
<use href="#m-up" x="1854.4" y="1441.5"/>
<use href="#m-up" x="1878.4" y="1441.5"/>
<use href="#m-up" x="1899.4" y="1441.5"/>
<use href="#m-up" x="1920.4" y="1441.5"/>
<use href="#m-up" x="1944.4" y="1441.5"/>
<use href="#m-up" x="1965.4" y="1441.5"/>
<use href="#m-up" x="1989.4" y="1441.5"/>
<use href="#m-up" x="2010.4" y="1441.5"/>
<use href="#m-up" x="2034.4" y="1441.5"/>
<use href="#m-up" x="2055.4" y="1441.5"/>
<use href="#m-up" x="2076.4" y="1441.5"/>
<use href="#m-up" x="2100.4" y="1441.5"/>
<use href="#m-up" x="2121.4" y="1441.5"/>
<use href="#m-up" x="2145.4" y="1441.5"/>
<use href="#m-up" x="2166.4" y="1456.5"/>
<use href="#m-up" x="2187.4" y="1456.5"/>
<use href="#m-up" x="2211.4" y="1456.5"/>
<use href="#m-up" x="2232.4" y="1456.5"/>
<use href="#m-up" x="2256.4" y="1456.5"/>
<use href="#m-up" x="2277.4" y="1456.5"/>
<use href="#m-up" x="2298.4" y="1456.5"/>
<use href="#m-up" x="2322.4" y="1456.5"/>
<use href="#m-up" x="2343.4" y="1456.5"/>
<use href="#m-up" x="2367.4" y="1456.5"/>
<use href="#m-up" x="2388.4" y="1456.5"/>
<use href="#m-up" x="2412.4" y="1456.5"/>
</g>
</g>
<rect x="1970.2" y="69.2" width="401.8" height="458.6" fill="#fff" stroke="#262626" stroke-width="3.8"/>
<g fill="#0072bd" stroke="#0072bd" stroke-width="0">
<line x1="1989" y1="98.4" x2="2117.8" y2="98.4" stroke-width="8.9"/>
<use href="#m-hex" x="2052.4" y="97.5"/>
</g>
<text class="leg" transform="translate(2126.8 112.4) scale(0.963 1)">Simulation 1</text>
<g fill="#d95319" stroke="#d95319" stroke-width="0">
<line x1="1989" y1="142.9" x2="2117.8" y2="142.9" stroke-width="8.9"/>
<use href="#m-star" x="2052.4" y="142.5"/>
</g>
<text class="leg" transform="translate(2126.8 156.9) scale(0.963 1)">Simulation 2</text>
<g fill="#edb120" stroke="#edb120" stroke-width="0">
<line x1="1989" y1="187.3" x2="2117.8" y2="187.3" stroke-width="8.9"/>
<use href="#m-left" x="2052.4" y="187.5"/>
</g>
<text class="leg" transform="translate(2126.8 201.5) scale(0.963 1)">Simulation 3</text>
<g fill="#7e2f8e" stroke="#7e2f8e" stroke-width="0">
<line x1="1989" y1="231.8" x2="2117.8" y2="231.8" stroke-width="8.9"/>
<use href="#m-diamond" x="2052.4" y="232.5"/>
</g>
<text class="leg" transform="translate(2126.8 246) scale(0.963 1)">Simulation 4</text>
<g fill="#77ac30" stroke="#77ac30" stroke-width="0">
<line x1="1989" y1="276.3" x2="2117.8" y2="276.3" stroke-width="8.9"/>
<use href="#m-square" x="2052.4" y="277.5"/>
</g>
<text class="leg" transform="translate(2126.8 290.6) scale(0.963 1)">Simulation 5</text>
<g fill="#4dbeee" stroke="#4dbeee" stroke-width="0">
<line x1="1989" y1="320.8" x2="2117.8" y2="320.8" stroke-width="8.9"/>
<use href="#m-hex6" x="2052.4" y="319.5"/>
</g>
<text class="leg" transform="translate(2126.8 335.1) scale(0.963 1)">Simulation 6</text>
<g fill="#a2142f" stroke="#a2142f" stroke-width="0">
<line x1="1989" y1="365.2" x2="2117.8" y2="365.2" stroke-width="8.9"/>
<use href="#m-circle" x="2052.4" y="364.5"/>
</g>
<text class="leg" transform="translate(2126.8 379.7) scale(0.963 1)">Simulation 7</text>
<g fill="#0072bd" stroke="#0072bd" stroke-width="0">
<line x1="1989" y1="409.7" x2="2117.8" y2="409.7" stroke-width="8.9"/>
<use href="#m-plus" x="2052.4" y="409.5"/>
</g>
<text class="leg" transform="translate(2126.8 424.2) scale(0.963 1)">Simulation 8</text>
<g fill="#d95319" stroke="#d95319" stroke-width="0">
<line x1="1989" y1="454.2" x2="2117.8" y2="454.2" stroke-width="8.9"/>
<use href="#m-down" x="2052.4" y="454.5"/>
</g>
<text class="leg" transform="translate(2126.8 468.8) scale(0.963 1)">Simulation 9</text>
<g fill="#edb120" stroke="#edb120" stroke-width="0">
<line x1="1989" y1="498.6" x2="2117.8" y2="498.6" stroke-width="8.9"/>
<use href="#m-up" x="2052.4" y="499.5"/>
</g>
<text class="leg" transform="translate(2126.8 513.4) scale(0.963 1)">Simulation 10</text>
</svg>
</body></html>
